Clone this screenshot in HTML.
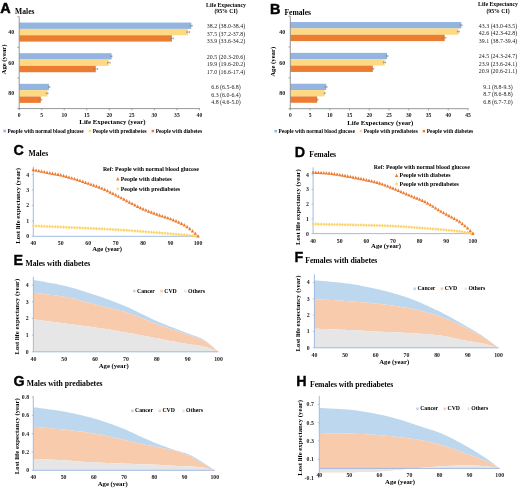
<!DOCTYPE html>
<html><head><meta charset="utf-8"><style>
html,body{margin:0;padding:0;background:#fff;width:520px;height:488px;overflow:hidden;}
svg{display:block;will-change:transform;}
</style></head><body>
<svg width="520" height="488" viewBox="0 0 520 488">
<rect width="520" height="488" fill="#fff"/>
<text x="0.30" y="12.80" font-family='"Liberation Sans", sans-serif' font-size="14.4" font-weight="bold" text-anchor="start" fill="#000" stroke="#000" stroke-width="0.5">A</text>
<text x="15.10" y="14.10" font-family='"Liberation Serif", serif' font-size="7.6" font-weight="bold" text-anchor="start" fill="#000" >Males</text>
<rect x="19.20" y="22.55" width="172.09" height="6.35" fill="#93B5E0"/>
<line x1="190.39" y1="25.72" x2="192.19" y2="25.72" stroke="#7f7f7f" stroke-width="0.6"/>
<line x1="190.39" y1="24.72" x2="190.39" y2="26.72" stroke="#7f7f7f" stroke-width="0.6"/>
<line x1="192.19" y1="24.72" x2="192.19" y2="26.72" stroke="#7f7f7f" stroke-width="0.6"/>
<rect x="19.20" y="28.90" width="168.94" height="6.35" fill="#FDD984"/>
<line x1="186.79" y1="32.07" x2="189.49" y2="32.07" stroke="#7f7f7f" stroke-width="0.6"/>
<line x1="186.79" y1="31.07" x2="186.79" y2="33.07" stroke="#7f7f7f" stroke-width="0.6"/>
<line x1="189.49" y1="31.07" x2="189.49" y2="33.07" stroke="#7f7f7f" stroke-width="0.6"/>
<rect x="19.20" y="35.25" width="152.72" height="6.35" fill="#EC7C31"/>
<line x1="170.57" y1="38.42" x2="173.27" y2="38.42" stroke="#7f7f7f" stroke-width="0.6"/>
<line x1="170.57" y1="37.42" x2="170.57" y2="39.42" stroke="#7f7f7f" stroke-width="0.6"/>
<line x1="173.27" y1="37.42" x2="173.27" y2="39.42" stroke="#7f7f7f" stroke-width="0.6"/>
<rect x="19.20" y="53.18" width="92.35" height="6.35" fill="#93B5E0"/>
<line x1="110.65" y1="56.35" x2="112.00" y2="56.35" stroke="#7f7f7f" stroke-width="0.6"/>
<line x1="110.65" y1="55.35" x2="110.65" y2="57.35" stroke="#7f7f7f" stroke-width="0.6"/>
<line x1="112.00" y1="55.35" x2="112.00" y2="57.35" stroke="#7f7f7f" stroke-width="0.6"/>
<rect x="19.20" y="59.53" width="89.65" height="6.35" fill="#FDD984"/>
<line x1="107.50" y1="62.70" x2="110.20" y2="62.70" stroke="#7f7f7f" stroke-width="0.6"/>
<line x1="107.50" y1="61.70" x2="107.50" y2="63.70" stroke="#7f7f7f" stroke-width="0.6"/>
<line x1="110.20" y1="61.70" x2="110.20" y2="63.70" stroke="#7f7f7f" stroke-width="0.6"/>
<rect x="19.20" y="65.88" width="76.59" height="6.35" fill="#EC7C31"/>
<line x1="93.98" y1="69.05" x2="97.59" y2="69.05" stroke="#7f7f7f" stroke-width="0.6"/>
<line x1="93.98" y1="68.05" x2="93.98" y2="70.05" stroke="#7f7f7f" stroke-width="0.6"/>
<line x1="97.59" y1="68.05" x2="97.59" y2="70.05" stroke="#7f7f7f" stroke-width="0.6"/>
<rect x="19.20" y="83.81" width="29.73" height="6.35" fill="#93B5E0"/>
<line x1="48.48" y1="86.98" x2="49.83" y2="86.98" stroke="#7f7f7f" stroke-width="0.6"/>
<line x1="48.48" y1="85.98" x2="48.48" y2="87.98" stroke="#7f7f7f" stroke-width="0.6"/>
<line x1="49.83" y1="85.98" x2="49.83" y2="87.98" stroke="#7f7f7f" stroke-width="0.6"/>
<rect x="19.20" y="90.16" width="28.38" height="6.35" fill="#FDD984"/>
<line x1="46.23" y1="93.33" x2="48.03" y2="93.33" stroke="#7f7f7f" stroke-width="0.6"/>
<line x1="46.23" y1="92.33" x2="46.23" y2="94.33" stroke="#7f7f7f" stroke-width="0.6"/>
<line x1="48.03" y1="92.33" x2="48.03" y2="94.33" stroke="#7f7f7f" stroke-width="0.6"/>
<rect x="19.20" y="96.51" width="21.62" height="6.35" fill="#EC7C31"/>
<line x1="39.92" y1="99.68" x2="41.73" y2="99.68" stroke="#7f7f7f" stroke-width="0.6"/>
<line x1="39.92" y1="98.68" x2="39.92" y2="100.68" stroke="#7f7f7f" stroke-width="0.6"/>
<line x1="41.73" y1="98.68" x2="41.73" y2="100.68" stroke="#7f7f7f" stroke-width="0.6"/>
<line x1="19.20" y1="16.70" x2="19.20" y2="109.09" stroke="#8C8C8C" stroke-width="0.9"/>
<line x1="18.70" y1="108.59" x2="199.90" y2="108.59" stroke="#8C8C8C" stroke-width="0.9"/>
<line x1="17.40" y1="16.70" x2="19.20" y2="16.70" stroke="#8C8C8C" stroke-width="0.8"/>
<line x1="17.40" y1="47.33" x2="19.20" y2="47.33" stroke="#8C8C8C" stroke-width="0.8"/>
<line x1="17.40" y1="77.96" x2="19.20" y2="77.96" stroke="#8C8C8C" stroke-width="0.8"/>
<line x1="17.40" y1="108.59" x2="19.20" y2="108.59" stroke="#8C8C8C" stroke-width="0.8"/>
<line x1="19.20" y1="108.59" x2="19.20" y2="110.19" stroke="#8C8C8C" stroke-width="0.8"/>
<text x="19.20" y="116.79" font-family='"Liberation Serif", serif' font-size="5.6" font-weight="bold" text-anchor="middle" fill="#222" >0</text>
<line x1="41.73" y1="108.59" x2="41.73" y2="110.19" stroke="#8C8C8C" stroke-width="0.8"/>
<text x="41.73" y="116.79" font-family='"Liberation Serif", serif' font-size="5.6" font-weight="bold" text-anchor="middle" fill="#222" >5</text>
<line x1="64.25" y1="108.59" x2="64.25" y2="110.19" stroke="#8C8C8C" stroke-width="0.8"/>
<text x="64.25" y="116.79" font-family='"Liberation Serif", serif' font-size="5.6" font-weight="bold" text-anchor="middle" fill="#222" >10</text>
<line x1="86.78" y1="108.59" x2="86.78" y2="110.19" stroke="#8C8C8C" stroke-width="0.8"/>
<text x="86.78" y="116.79" font-family='"Liberation Serif", serif' font-size="5.6" font-weight="bold" text-anchor="middle" fill="#222" >15</text>
<line x1="109.30" y1="108.59" x2="109.30" y2="110.19" stroke="#8C8C8C" stroke-width="0.8"/>
<text x="109.30" y="116.79" font-family='"Liberation Serif", serif' font-size="5.6" font-weight="bold" text-anchor="middle" fill="#222" >20</text>
<line x1="131.83" y1="108.59" x2="131.83" y2="110.19" stroke="#8C8C8C" stroke-width="0.8"/>
<text x="131.83" y="116.79" font-family='"Liberation Serif", serif' font-size="5.6" font-weight="bold" text-anchor="middle" fill="#222" >25</text>
<line x1="154.35" y1="108.59" x2="154.35" y2="110.19" stroke="#8C8C8C" stroke-width="0.8"/>
<text x="154.35" y="116.79" font-family='"Liberation Serif", serif' font-size="5.6" font-weight="bold" text-anchor="middle" fill="#222" >30</text>
<line x1="176.88" y1="108.59" x2="176.88" y2="110.19" stroke="#8C8C8C" stroke-width="0.8"/>
<text x="176.88" y="116.79" font-family='"Liberation Serif", serif' font-size="5.6" font-weight="bold" text-anchor="middle" fill="#222" >35</text>
<line x1="199.40" y1="108.59" x2="199.40" y2="110.19" stroke="#8C8C8C" stroke-width="0.8"/>
<text x="199.40" y="116.79" font-family='"Liberation Serif", serif' font-size="5.6" font-weight="bold" text-anchor="middle" fill="#222" >40</text>
<text x="11.20" y="34.22" font-family='"Liberation Serif", serif' font-size="6.0" font-weight="bold" text-anchor="middle" fill="#222" >40</text>
<text x="11.20" y="64.84" font-family='"Liberation Serif", serif' font-size="6.0" font-weight="bold" text-anchor="middle" fill="#222" >60</text>
<text x="11.20" y="95.47" font-family='"Liberation Serif", serif' font-size="6.0" font-weight="bold" text-anchor="middle" fill="#222" >80</text>
<text transform="translate(6.00,59.50) rotate(-90)" font-family='"Liberation Serif", serif' font-size="6.7" font-weight="bold" text-anchor="middle">Age (year)</text>
<text x="112.40" y="123.50" font-family='"Liberation Serif", serif' font-size="6.8" font-weight="bold" text-anchor="middle" fill="#000" >Life Expectancy (year)</text>
<text x="226.00" y="6.70" font-family='"Liberation Serif", serif' font-size="5.75" font-weight="bold" text-anchor="middle" fill="#000" >Life Expectancy</text>
<text x="226.00" y="13.30" font-family='"Liberation Serif", serif' font-size="5.75" font-weight="bold" text-anchor="middle" fill="#000" >(95% CI)</text>
<text x="226.00" y="28.30" font-family='"Liberation Serif", serif' font-size="5.9" font-weight="normal" text-anchor="middle" fill="#222" >38.2 (38.0-38.4)</text>
<text x="226.00" y="35.80" font-family='"Liberation Serif", serif' font-size="5.9" font-weight="normal" text-anchor="middle" fill="#222" >37.5 (37.2-37.8)</text>
<text x="226.00" y="43.30" font-family='"Liberation Serif", serif' font-size="5.9" font-weight="normal" text-anchor="middle" fill="#222" >33.9 (33.6-34.2)</text>
<text x="226.00" y="58.80" font-family='"Liberation Serif", serif' font-size="5.9" font-weight="normal" text-anchor="middle" fill="#222" >20.5 (20.3-20.6)</text>
<text x="226.00" y="66.30" font-family='"Liberation Serif", serif' font-size="5.9" font-weight="normal" text-anchor="middle" fill="#222" >19.9 (19.6-20.2)</text>
<text x="226.00" y="73.80" font-family='"Liberation Serif", serif' font-size="5.9" font-weight="normal" text-anchor="middle" fill="#222" >17.0 (16.6-17.4)</text>
<text x="226.00" y="89.30" font-family='"Liberation Serif", serif' font-size="5.9" font-weight="normal" text-anchor="middle" fill="#222" >6.6 (6.5-6.8)</text>
<text x="226.00" y="96.80" font-family='"Liberation Serif", serif' font-size="5.9" font-weight="normal" text-anchor="middle" fill="#222" >6.3 (6.0-6.4)</text>
<text x="226.00" y="104.30" font-family='"Liberation Serif", serif' font-size="5.9" font-weight="normal" text-anchor="middle" fill="#222" >4.8 (4.6-5.0)</text>
<rect x="3.40" y="129.80" width="2.50" height="2.50" fill="#93B5E0"/>
<text x="7.50" y="133.00" font-family='"Liberation Serif", serif' font-size="5.32" font-weight="bold" text-anchor="start" fill="#000" >People with normal blood glucose</text>
<rect x="88.60" y="129.80" width="2.50" height="2.50" fill="#FDD984"/>
<text x="92.70" y="133.00" font-family='"Liberation Serif", serif' font-size="5.32" font-weight="bold" text-anchor="start" fill="#000" >People with prediabetes</text>
<rect x="151.60" y="129.80" width="2.50" height="2.50" fill="#EC7C31"/>
<text x="155.70" y="133.00" font-family='"Liberation Serif", serif' font-size="5.32" font-weight="bold" text-anchor="start" fill="#000" >People with diabetes</text>
<text x="270.10" y="14.20" font-family='"Liberation Sans", sans-serif' font-size="14.4" font-weight="bold" text-anchor="start" fill="#000" stroke="#000" stroke-width="0.5">B</text>
<text x="284.40" y="14.80" font-family='"Liberation Serif", serif' font-size="7.6" font-weight="bold" text-anchor="start" fill="#000" >Females</text>
<rect x="290.30" y="22.05" width="170.99" height="6.35" fill="#93B5E0"/>
<line x1="460.10" y1="25.22" x2="462.08" y2="25.22" stroke="#7f7f7f" stroke-width="0.6"/>
<line x1="460.10" y1="24.22" x2="460.10" y2="26.22" stroke="#7f7f7f" stroke-width="0.6"/>
<line x1="462.08" y1="24.22" x2="462.08" y2="26.22" stroke="#7f7f7f" stroke-width="0.6"/>
<rect x="290.30" y="28.40" width="168.22" height="6.35" fill="#FDD984"/>
<line x1="457.34" y1="31.57" x2="459.31" y2="31.57" stroke="#7f7f7f" stroke-width="0.6"/>
<line x1="457.34" y1="30.57" x2="457.34" y2="32.57" stroke="#7f7f7f" stroke-width="0.6"/>
<line x1="459.31" y1="30.57" x2="459.31" y2="32.57" stroke="#7f7f7f" stroke-width="0.6"/>
<rect x="290.30" y="34.75" width="154.40" height="6.35" fill="#EC7C31"/>
<line x1="443.12" y1="37.92" x2="445.89" y2="37.92" stroke="#7f7f7f" stroke-width="0.6"/>
<line x1="443.12" y1="36.92" x2="443.12" y2="38.92" stroke="#7f7f7f" stroke-width="0.6"/>
<line x1="445.89" y1="36.92" x2="445.89" y2="38.92" stroke="#7f7f7f" stroke-width="0.6"/>
<rect x="290.30" y="52.88" width="96.75" height="6.35" fill="#93B5E0"/>
<line x1="386.26" y1="56.05" x2="387.84" y2="56.05" stroke="#7f7f7f" stroke-width="0.6"/>
<line x1="386.26" y1="55.05" x2="386.26" y2="57.05" stroke="#7f7f7f" stroke-width="0.6"/>
<line x1="387.84" y1="55.05" x2="387.84" y2="57.05" stroke="#7f7f7f" stroke-width="0.6"/>
<rect x="290.30" y="59.23" width="94.38" height="6.35" fill="#FDD984"/>
<line x1="383.49" y1="62.40" x2="385.47" y2="62.40" stroke="#7f7f7f" stroke-width="0.6"/>
<line x1="383.49" y1="61.40" x2="383.49" y2="63.40" stroke="#7f7f7f" stroke-width="0.6"/>
<line x1="385.47" y1="61.40" x2="385.47" y2="63.40" stroke="#7f7f7f" stroke-width="0.6"/>
<rect x="290.30" y="65.58" width="82.53" height="6.35" fill="#EC7C31"/>
<line x1="371.65" y1="68.75" x2="373.62" y2="68.75" stroke="#7f7f7f" stroke-width="0.6"/>
<line x1="371.65" y1="67.75" x2="371.65" y2="69.75" stroke="#7f7f7f" stroke-width="0.6"/>
<line x1="373.62" y1="67.75" x2="373.62" y2="69.75" stroke="#7f7f7f" stroke-width="0.6"/>
<rect x="290.30" y="83.71" width="35.93" height="6.35" fill="#93B5E0"/>
<line x1="325.05" y1="86.88" x2="327.02" y2="86.88" stroke="#7f7f7f" stroke-width="0.6"/>
<line x1="325.05" y1="85.88" x2="325.05" y2="87.88" stroke="#7f7f7f" stroke-width="0.6"/>
<line x1="327.02" y1="85.88" x2="327.02" y2="87.88" stroke="#7f7f7f" stroke-width="0.6"/>
<rect x="290.30" y="90.06" width="34.36" height="6.35" fill="#FDD984"/>
<line x1="324.26" y1="93.23" x2="325.05" y2="93.23" stroke="#7f7f7f" stroke-width="0.6"/>
<line x1="324.26" y1="92.23" x2="324.26" y2="94.23" stroke="#7f7f7f" stroke-width="0.6"/>
<line x1="325.05" y1="92.23" x2="325.05" y2="94.23" stroke="#7f7f7f" stroke-width="0.6"/>
<rect x="290.30" y="96.41" width="26.85" height="6.35" fill="#EC7C31"/>
<line x1="316.76" y1="99.58" x2="317.94" y2="99.58" stroke="#7f7f7f" stroke-width="0.6"/>
<line x1="316.76" y1="98.58" x2="316.76" y2="100.58" stroke="#7f7f7f" stroke-width="0.6"/>
<line x1="317.94" y1="98.58" x2="317.94" y2="100.58" stroke="#7f7f7f" stroke-width="0.6"/>
<line x1="290.30" y1="16.20" x2="290.30" y2="109.19" stroke="#8C8C8C" stroke-width="0.9"/>
<line x1="289.80" y1="108.69" x2="468.50" y2="108.69" stroke="#8C8C8C" stroke-width="0.9"/>
<line x1="288.50" y1="16.20" x2="290.30" y2="16.20" stroke="#8C8C8C" stroke-width="0.8"/>
<line x1="288.50" y1="47.03" x2="290.30" y2="47.03" stroke="#8C8C8C" stroke-width="0.8"/>
<line x1="288.50" y1="77.86" x2="290.30" y2="77.86" stroke="#8C8C8C" stroke-width="0.8"/>
<line x1="288.50" y1="108.69" x2="290.30" y2="108.69" stroke="#8C8C8C" stroke-width="0.8"/>
<line x1="290.30" y1="108.69" x2="290.30" y2="110.29" stroke="#8C8C8C" stroke-width="0.8"/>
<text x="290.30" y="116.89" font-family='"Liberation Serif", serif' font-size="5.6" font-weight="bold" text-anchor="middle" fill="#222" >0</text>
<line x1="310.04" y1="108.69" x2="310.04" y2="110.29" stroke="#8C8C8C" stroke-width="0.8"/>
<text x="310.04" y="116.89" font-family='"Liberation Serif", serif' font-size="5.6" font-weight="bold" text-anchor="middle" fill="#222" >5</text>
<line x1="329.79" y1="108.69" x2="329.79" y2="110.29" stroke="#8C8C8C" stroke-width="0.8"/>
<text x="329.79" y="116.89" font-family='"Liberation Serif", serif' font-size="5.6" font-weight="bold" text-anchor="middle" fill="#222" >10</text>
<line x1="349.53" y1="108.69" x2="349.53" y2="110.29" stroke="#8C8C8C" stroke-width="0.8"/>
<text x="349.53" y="116.89" font-family='"Liberation Serif", serif' font-size="5.6" font-weight="bold" text-anchor="middle" fill="#222" >15</text>
<line x1="369.28" y1="108.69" x2="369.28" y2="110.29" stroke="#8C8C8C" stroke-width="0.8"/>
<text x="369.28" y="116.89" font-family='"Liberation Serif", serif' font-size="5.6" font-weight="bold" text-anchor="middle" fill="#222" >20</text>
<line x1="389.02" y1="108.69" x2="389.02" y2="110.29" stroke="#8C8C8C" stroke-width="0.8"/>
<text x="389.02" y="116.89" font-family='"Liberation Serif", serif' font-size="5.6" font-weight="bold" text-anchor="middle" fill="#222" >25</text>
<line x1="408.77" y1="108.69" x2="408.77" y2="110.29" stroke="#8C8C8C" stroke-width="0.8"/>
<text x="408.77" y="116.89" font-family='"Liberation Serif", serif' font-size="5.6" font-weight="bold" text-anchor="middle" fill="#222" >30</text>
<line x1="428.51" y1="108.69" x2="428.51" y2="110.29" stroke="#8C8C8C" stroke-width="0.8"/>
<text x="428.51" y="116.89" font-family='"Liberation Serif", serif' font-size="5.6" font-weight="bold" text-anchor="middle" fill="#222" >35</text>
<line x1="448.26" y1="108.69" x2="448.26" y2="110.29" stroke="#8C8C8C" stroke-width="0.8"/>
<text x="448.26" y="116.89" font-family='"Liberation Serif", serif' font-size="5.6" font-weight="bold" text-anchor="middle" fill="#222" >40</text>
<line x1="468.00" y1="108.69" x2="468.00" y2="110.29" stroke="#8C8C8C" stroke-width="0.8"/>
<text x="468.00" y="116.89" font-family='"Liberation Serif", serif' font-size="5.6" font-weight="bold" text-anchor="middle" fill="#222" >45</text>
<text x="282.30" y="33.81" font-family='"Liberation Serif", serif' font-size="6.0" font-weight="bold" text-anchor="middle" fill="#222" >40</text>
<text x="282.30" y="64.64" font-family='"Liberation Serif", serif' font-size="6.0" font-weight="bold" text-anchor="middle" fill="#222" >60</text>
<text x="282.30" y="95.48" font-family='"Liberation Serif", serif' font-size="6.0" font-weight="bold" text-anchor="middle" fill="#222" >80</text>
<text transform="translate(275.20,61.80) rotate(-90)" font-family='"Liberation Serif", serif' font-size="6.7" font-weight="bold" text-anchor="middle">Age (year)</text>
<text x="380.30" y="125.20" font-family='"Liberation Serif", serif' font-size="6.8" font-weight="bold" text-anchor="middle" fill="#000" >Life Expectancy (year)</text>
<text x="498.00" y="6.10" font-family='"Liberation Serif", serif' font-size="5.75" font-weight="bold" text-anchor="middle" fill="#000" >Life Expectancy</text>
<text x="498.00" y="12.70" font-family='"Liberation Serif", serif' font-size="5.75" font-weight="bold" text-anchor="middle" fill="#000" >(95% CI)</text>
<text x="498.00" y="27.50" font-family='"Liberation Serif", serif' font-size="5.9" font-weight="normal" text-anchor="middle" fill="#222" >43.3 (43.0-43.5)</text>
<text x="498.00" y="35.00" font-family='"Liberation Serif", serif' font-size="5.9" font-weight="normal" text-anchor="middle" fill="#222" >42.6 (42.3-42.8)</text>
<text x="498.00" y="42.50" font-family='"Liberation Serif", serif' font-size="5.9" font-weight="normal" text-anchor="middle" fill="#222" >39.1 (38.7-39.4)</text>
<text x="498.00" y="58.00" font-family='"Liberation Serif", serif' font-size="5.9" font-weight="normal" text-anchor="middle" fill="#222" >24.5 (24.3-24.7)</text>
<text x="498.00" y="65.50" font-family='"Liberation Serif", serif' font-size="5.9" font-weight="normal" text-anchor="middle" fill="#222" >23.9 (23.6-24.1)</text>
<text x="498.00" y="73.00" font-family='"Liberation Serif", serif' font-size="5.9" font-weight="normal" text-anchor="middle" fill="#222" >20.9 (20.6-21.1)</text>
<text x="498.00" y="88.50" font-family='"Liberation Serif", serif' font-size="5.9" font-weight="normal" text-anchor="middle" fill="#222" >9.1 (8.8-9.3)</text>
<text x="498.00" y="96.00" font-family='"Liberation Serif", serif' font-size="5.9" font-weight="normal" text-anchor="middle" fill="#222" >8.7 (8.6-8.8)</text>
<text x="498.00" y="103.50" font-family='"Liberation Serif", serif' font-size="5.9" font-weight="normal" text-anchor="middle" fill="#222" >6.8 (6.7-7.0)</text>
<rect x="274.50" y="129.90" width="2.50" height="2.50" fill="#93B5E0"/>
<text x="278.60" y="133.10" font-family='"Liberation Serif", serif' font-size="5.32" font-weight="bold" text-anchor="start" fill="#000" >People with normal blood glucose</text>
<rect x="359.70" y="129.90" width="2.50" height="2.50" fill="#FDD984"/>
<text x="363.80" y="133.10" font-family='"Liberation Serif", serif' font-size="5.32" font-weight="bold" text-anchor="start" fill="#000" >People with prediabetes</text>
<rect x="422.70" y="129.90" width="2.50" height="2.50" fill="#EC7C31"/>
<text x="426.80" y="133.10" font-family='"Liberation Serif", serif' font-size="5.32" font-weight="bold" text-anchor="start" fill="#000" >People with diabetes</text>
<text x="13.50" y="155.10" font-family='"Liberation Sans", sans-serif' font-size="14.3" font-weight="bold" text-anchor="start" fill="#000" stroke="#000" stroke-width="0.35">C</text>
<text x="28.50" y="155.80" font-family='"Liberation Serif", serif' font-size="7.7" font-weight="bold" text-anchor="start" fill="#000" >Males</text>
<line x1="33.30" y1="166.50" x2="33.30" y2="236.30" stroke="#9BB4E0" stroke-width="0.9"/>
<line x1="33.30" y1="236.30" x2="198.00" y2="236.30" stroke="#9BB4E0" stroke-width="0.9"/>
<line x1="31.80" y1="236.30" x2="33.30" y2="236.30" stroke="#9BB4E0" stroke-width="0.8"/>
<text x="27.70" y="238.30" font-family='"Liberation Serif", serif' font-size="5.8" font-weight="bold" text-anchor="middle" fill="#222" >0</text>
<line x1="31.80" y1="220.88" x2="33.30" y2="220.88" stroke="#9BB4E0" stroke-width="0.8"/>
<text x="27.70" y="222.88" font-family='"Liberation Serif", serif' font-size="5.8" font-weight="bold" text-anchor="middle" fill="#222" >1</text>
<line x1="31.80" y1="205.45" x2="33.30" y2="205.45" stroke="#9BB4E0" stroke-width="0.8"/>
<text x="27.70" y="207.45" font-family='"Liberation Serif", serif' font-size="5.8" font-weight="bold" text-anchor="middle" fill="#222" >2</text>
<line x1="31.80" y1="190.03" x2="33.30" y2="190.03" stroke="#9BB4E0" stroke-width="0.8"/>
<text x="27.70" y="192.03" font-family='"Liberation Serif", serif' font-size="5.8" font-weight="bold" text-anchor="middle" fill="#222" >3</text>
<line x1="31.80" y1="174.60" x2="33.30" y2="174.60" stroke="#9BB4E0" stroke-width="0.8"/>
<text x="27.70" y="176.60" font-family='"Liberation Serif", serif' font-size="5.8" font-weight="bold" text-anchor="middle" fill="#222" >4</text>
<text x="33.30" y="245.30" font-family='"Liberation Serif", serif' font-size="5.8" font-weight="bold" text-anchor="middle" fill="#222" >40</text>
<text x="60.75" y="245.30" font-family='"Liberation Serif", serif' font-size="5.8" font-weight="bold" text-anchor="middle" fill="#222" >50</text>
<text x="88.20" y="245.30" font-family='"Liberation Serif", serif' font-size="5.8" font-weight="bold" text-anchor="middle" fill="#222" >60</text>
<text x="115.65" y="245.30" font-family='"Liberation Serif", serif' font-size="5.8" font-weight="bold" text-anchor="middle" fill="#222" >70</text>
<text x="143.10" y="245.30" font-family='"Liberation Serif", serif' font-size="5.8" font-weight="bold" text-anchor="middle" fill="#222" >80</text>
<text x="170.55" y="245.30" font-family='"Liberation Serif", serif' font-size="5.8" font-weight="bold" text-anchor="middle" fill="#222" >90</text>
<text x="198.00" y="245.30" font-family='"Liberation Serif", serif' font-size="5.8" font-weight="bold" text-anchor="middle" fill="#222" >100</text>
<path d="M33.30 224.01L34.80 225.81L33.30 227.61L31.80 225.81Z" fill="#FDD56C"/>
<path d="M36.04 224.14L37.54 225.94L36.04 227.74L34.54 225.94Z" fill="#FDD56C"/>
<path d="M38.79 224.27L40.29 226.07L38.79 227.87L37.29 226.07Z" fill="#FDD56C"/>
<path d="M41.53 224.39L43.03 226.19L41.53 227.99L40.03 226.19Z" fill="#FDD56C"/>
<path d="M44.28 224.52L45.78 226.32L44.28 228.12L42.78 226.32Z" fill="#FDD56C"/>
<path d="M47.02 224.64L48.52 226.44L47.02 228.24L45.52 226.44Z" fill="#FDD56C"/>
<path d="M49.77 224.76L51.27 226.56L49.77 228.36L48.27 226.56Z" fill="#FDD56C"/>
<path d="M52.51 224.88L54.01 226.68L52.51 228.48L51.01 226.68Z" fill="#FDD56C"/>
<path d="M55.26 225.00L56.76 226.80L55.26 228.60L53.76 226.80Z" fill="#FDD56C"/>
<path d="M58.00 225.12L59.50 226.92L58.00 228.72L56.50 226.92Z" fill="#FDD56C"/>
<path d="M60.75 225.24L62.25 227.04L60.75 228.84L59.25 227.04Z" fill="#FDD56C"/>
<path d="M63.49 225.36L64.99 227.16L63.49 228.96L61.99 227.16Z" fill="#FDD56C"/>
<path d="M66.24 225.47L67.74 227.27L66.24 229.07L64.74 227.27Z" fill="#FDD56C"/>
<path d="M68.98 225.59L70.48 227.39L68.98 229.19L67.48 227.39Z" fill="#FDD56C"/>
<path d="M71.73 225.71L73.23 227.51L71.73 229.31L70.23 227.51Z" fill="#FDD56C"/>
<path d="M74.47 225.83L75.97 227.63L74.47 229.43L72.97 227.63Z" fill="#FDD56C"/>
<path d="M77.22 225.95L78.72 227.75L77.22 229.55L75.72 227.75Z" fill="#FDD56C"/>
<path d="M79.96 226.08L81.46 227.88L79.96 229.68L78.46 227.88Z" fill="#FDD56C"/>
<path d="M82.71 226.20L84.21 228.00L82.71 229.80L81.21 228.00Z" fill="#FDD56C"/>
<path d="M85.45 226.32L86.95 228.12L85.45 229.92L83.95 228.12Z" fill="#FDD56C"/>
<path d="M88.20 226.45L89.70 228.25L88.20 230.05L86.70 228.25Z" fill="#FDD56C"/>
<path d="M90.94 226.58L92.44 228.38L90.94 230.18L89.44 228.38Z" fill="#FDD56C"/>
<path d="M93.69 226.71L95.19 228.51L93.69 230.31L92.19 228.51Z" fill="#FDD56C"/>
<path d="M96.43 226.84L97.93 228.64L96.43 230.44L94.93 228.64Z" fill="#FDD56C"/>
<path d="M99.18 226.98L100.68 228.78L99.18 230.58L97.68 228.78Z" fill="#FDD56C"/>
<path d="M101.92 227.12L103.42 228.92L101.92 230.72L100.42 228.92Z" fill="#FDD56C"/>
<path d="M104.67 227.26L106.17 229.06L104.67 230.86L103.17 229.06Z" fill="#FDD56C"/>
<path d="M107.41 227.40L108.91 229.20L107.41 231.00L105.91 229.20Z" fill="#FDD56C"/>
<path d="M110.16 227.55L111.66 229.35L110.16 231.15L108.66 229.35Z" fill="#FDD56C"/>
<path d="M112.90 227.70L114.40 229.50L112.90 231.30L111.40 229.50Z" fill="#FDD56C"/>
<path d="M115.65 227.85L117.15 229.65L115.65 231.45L114.15 229.65Z" fill="#FDD56C"/>
<path d="M118.39 228.01L119.89 229.81L118.39 231.61L116.89 229.81Z" fill="#FDD56C"/>
<path d="M121.14 228.18L122.64 229.98L121.14 231.78L119.64 229.98Z" fill="#FDD56C"/>
<path d="M123.88 228.35L125.38 230.15L123.88 231.95L122.38 230.15Z" fill="#FDD56C"/>
<path d="M126.63 228.53L128.13 230.33L126.63 232.13L125.13 230.33Z" fill="#FDD56C"/>
<path d="M129.38 228.72L130.88 230.52L129.38 232.32L127.88 230.52Z" fill="#FDD56C"/>
<path d="M132.12 228.92L133.62 230.72L132.12 232.52L130.62 230.72Z" fill="#FDD56C"/>
<path d="M134.86 229.12L136.36 230.92L134.86 232.72L133.36 230.92Z" fill="#FDD56C"/>
<path d="M137.61 229.34L139.11 231.14L137.61 232.94L136.11 231.14Z" fill="#FDD56C"/>
<path d="M140.35 229.55L141.85 231.35L140.35 233.15L138.85 231.35Z" fill="#FDD56C"/>
<path d="M143.10 229.77L144.60 231.57L143.10 233.37L141.60 231.57Z" fill="#FDD56C"/>
<path d="M145.84 229.99L147.34 231.79L145.84 233.59L144.34 231.79Z" fill="#FDD56C"/>
<path d="M148.59 230.21L150.09 232.01L148.59 233.81L147.09 232.01Z" fill="#FDD56C"/>
<path d="M151.33 230.43L152.83 232.23L151.33 234.03L149.83 232.23Z" fill="#FDD56C"/>
<path d="M154.08 230.64L155.58 232.44L154.08 234.24L152.58 232.44Z" fill="#FDD56C"/>
<path d="M156.82 230.86L158.32 232.66L156.82 234.46L155.32 232.66Z" fill="#FDD56C"/>
<path d="M159.57 231.07L161.07 232.87L159.57 234.67L158.07 232.87Z" fill="#FDD56C"/>
<path d="M162.31 231.29L163.81 233.09L162.31 234.89L160.81 233.09Z" fill="#FDD56C"/>
<path d="M165.06 231.50L166.56 233.30L165.06 235.10L163.56 233.30Z" fill="#FDD56C"/>
<path d="M167.81 231.72L169.31 233.52L167.81 235.32L166.31 233.52Z" fill="#FDD56C"/>
<path d="M170.55 231.94L172.05 233.74L170.55 235.54L169.05 233.74Z" fill="#FDD56C"/>
<path d="M173.29 232.16L174.79 233.96L173.29 235.76L171.79 233.96Z" fill="#FDD56C"/>
<path d="M176.04 232.39L177.54 234.19L176.04 235.99L174.54 234.19Z" fill="#FDD56C"/>
<path d="M178.78 232.62L180.28 234.42L178.78 236.22L177.28 234.42Z" fill="#FDD56C"/>
<path d="M181.53 232.86L183.03 234.66L181.53 236.46L180.03 234.66Z" fill="#FDD56C"/>
<path d="M184.27 233.11L185.77 234.91L184.27 236.71L182.77 234.91Z" fill="#FDD56C"/>
<path d="M187.02 233.37L188.52 235.17L187.02 236.97L185.52 235.17Z" fill="#FDD56C"/>
<path d="M189.76 233.65L191.26 235.45L189.76 237.25L188.26 235.45Z" fill="#FDD56C"/>
<path d="M192.51 233.93L194.01 235.73L192.51 237.53L191.01 235.73Z" fill="#FDD56C"/>
<path d="M195.25 234.22L196.75 236.02L195.25 237.82L193.75 236.02Z" fill="#FDD56C"/>
<path d="M198.00 234.50L199.50 236.30L198.00 238.10L196.50 236.30Z" fill="#FDD56C"/>
<path d="M33.30 167.87L35.00 171.27L31.60 171.27Z" fill="#EC7C31"/>
<path d="M36.04 168.40L37.74 171.80L34.34 171.80Z" fill="#EC7C31"/>
<path d="M38.79 168.92L40.49 172.32L37.09 172.32Z" fill="#EC7C31"/>
<path d="M41.53 169.45L43.23 172.85L39.83 172.85Z" fill="#EC7C31"/>
<path d="M44.28 169.97L45.98 173.37L42.58 173.37Z" fill="#EC7C31"/>
<path d="M47.02 170.49L48.72 173.89L45.32 173.89Z" fill="#EC7C31"/>
<path d="M49.77 171.00L51.47 174.40L48.07 174.40Z" fill="#EC7C31"/>
<path d="M52.51 171.50L54.21 174.90L50.81 174.90Z" fill="#EC7C31"/>
<path d="M55.26 172.00L56.96 175.40L53.56 175.40Z" fill="#EC7C31"/>
<path d="M58.00 172.53L59.70 175.93L56.30 175.93Z" fill="#EC7C31"/>
<path d="M60.75 173.12L62.45 176.52L59.05 176.52Z" fill="#EC7C31"/>
<path d="M63.49 173.79L65.19 177.19L61.79 177.19Z" fill="#EC7C31"/>
<path d="M66.24 174.53L67.94 177.93L64.54 177.93Z" fill="#EC7C31"/>
<path d="M68.98 175.32L70.68 178.72L67.28 178.72Z" fill="#EC7C31"/>
<path d="M71.73 176.14L73.43 179.54L70.03 179.54Z" fill="#EC7C31"/>
<path d="M74.47 176.97L76.17 180.37L72.77 180.37Z" fill="#EC7C31"/>
<path d="M77.22 177.82L78.92 181.22L75.52 181.22Z" fill="#EC7C31"/>
<path d="M79.96 178.69L81.66 182.09L78.26 182.09Z" fill="#EC7C31"/>
<path d="M82.71 179.59L84.41 182.99L81.01 182.99Z" fill="#EC7C31"/>
<path d="M85.45 180.51L87.15 183.91L83.75 183.91Z" fill="#EC7C31"/>
<path d="M88.20 181.45L89.90 184.85L86.50 184.85Z" fill="#EC7C31"/>
<path d="M90.94 182.38L92.64 185.78L89.24 185.78Z" fill="#EC7C31"/>
<path d="M93.69 183.32L95.39 186.72L91.99 186.72Z" fill="#EC7C31"/>
<path d="M96.43 184.28L98.13 187.68L94.73 187.68Z" fill="#EC7C31"/>
<path d="M99.18 185.29L100.88 188.69L97.48 188.69Z" fill="#EC7C31"/>
<path d="M101.92 186.38L103.62 189.78L100.22 189.78Z" fill="#EC7C31"/>
<path d="M104.67 187.58L106.37 190.98L102.97 190.98Z" fill="#EC7C31"/>
<path d="M107.41 188.87L109.11 192.27L105.71 192.27Z" fill="#EC7C31"/>
<path d="M110.16 190.23L111.86 193.63L108.46 193.63Z" fill="#EC7C31"/>
<path d="M112.90 191.62L114.60 195.02L111.20 195.02Z" fill="#EC7C31"/>
<path d="M115.65 193.02L117.35 196.42L113.95 196.42Z" fill="#EC7C31"/>
<path d="M118.39 194.43L120.09 197.83L116.69 197.83Z" fill="#EC7C31"/>
<path d="M121.14 195.89L122.84 199.29L119.44 199.29Z" fill="#EC7C31"/>
<path d="M123.88 197.37L125.58 200.77L122.18 200.77Z" fill="#EC7C31"/>
<path d="M126.63 198.84L128.33 202.24L124.93 202.24Z" fill="#EC7C31"/>
<path d="M129.38 200.27L131.07 203.67L127.67 203.67Z" fill="#EC7C31"/>
<path d="M132.12 201.68L133.82 205.08L130.42 205.08Z" fill="#EC7C31"/>
<path d="M134.86 203.10L136.56 206.50L133.16 206.50Z" fill="#EC7C31"/>
<path d="M137.61 204.48L139.31 207.88L135.91 207.88Z" fill="#EC7C31"/>
<path d="M140.35 205.81L142.05 209.21L138.66 209.21Z" fill="#EC7C31"/>
<path d="M143.10 207.05L144.80 210.45L141.40 210.45Z" fill="#EC7C31"/>
<path d="M145.84 208.20L147.54 211.60L144.14 211.60Z" fill="#EC7C31"/>
<path d="M148.59 209.28L150.29 212.68L146.89 212.68Z" fill="#EC7C31"/>
<path d="M151.33 210.31L153.03 213.71L149.63 213.71Z" fill="#EC7C31"/>
<path d="M154.08 211.31L155.78 214.71L152.38 214.71Z" fill="#EC7C31"/>
<path d="M156.82 212.30L158.52 215.70L155.12 215.70Z" fill="#EC7C31"/>
<path d="M159.57 213.24L161.27 216.64L157.87 216.64Z" fill="#EC7C31"/>
<path d="M162.31 214.14L164.01 217.54L160.62 217.54Z" fill="#EC7C31"/>
<path d="M165.06 215.03L166.76 218.43L163.36 218.43Z" fill="#EC7C31"/>
<path d="M167.81 215.94L169.50 219.34L166.11 219.34Z" fill="#EC7C31"/>
<path d="M170.55 216.92L172.25 220.32L168.85 220.32Z" fill="#EC7C31"/>
<path d="M173.29 217.98L174.99 221.38L171.59 221.38Z" fill="#EC7C31"/>
<path d="M176.04 219.11L177.74 222.51L174.34 222.51Z" fill="#EC7C31"/>
<path d="M178.78 220.32L180.48 223.72L177.08 223.72Z" fill="#EC7C31"/>
<path d="M181.53 221.62L183.23 225.02L179.83 225.02Z" fill="#EC7C31"/>
<path d="M184.27 223.09L185.97 226.49L182.57 226.49Z" fill="#EC7C31"/>
<path d="M187.02 224.83L188.72 228.23L185.32 228.23Z" fill="#EC7C31"/>
<path d="M189.76 226.80L191.46 230.20L188.06 230.20Z" fill="#EC7C31"/>
<path d="M192.51 228.99L194.21 232.39L190.81 232.39Z" fill="#EC7C31"/>
<path d="M195.25 231.42L196.95 234.82L193.56 234.82Z" fill="#EC7C31"/>
<path d="M198.00 234.20L199.70 237.60L196.30 237.60Z" fill="#EC7C31"/>
<text transform="translate(20.20,243.80) rotate(-90)" font-family='"Liberation Serif", serif' font-size="6.75" font-weight="bold">Lost life expectancy (year)</text>
<text x="107.10" y="250.80" font-family='"Liberation Serif", serif' font-size="6.7" font-weight="bold" text-anchor="middle" fill="#000" >Age (year)</text>
<text x="102.90" y="171.20" font-family='"Liberation Serif", serif' font-size="5.85" font-weight="bold" text-anchor="start" fill="#000" >Ref: People with normal blood glucose</text>
<path d="M117.80 177.10L119.50 180.50L116.10 180.50Z" fill="#EC7C31"/>
<text x="120.80" y="180.70" font-family='"Liberation Serif", serif' font-size="5.85" font-weight="bold" text-anchor="start" fill="#000" >People with diabetes</text>
<path d="M117.80 187.00L119.30 188.80L117.80 190.60L116.30 188.80Z" fill="#FDD56C"/>
<text x="120.80" y="190.60" font-family='"Liberation Serif", serif' font-size="5.85" font-weight="bold" text-anchor="start" fill="#000" >People with prediabetes</text>
<text x="294.80" y="156.60" font-family='"Liberation Sans", sans-serif' font-size="14.3" font-weight="bold" text-anchor="start" fill="#000" stroke="#000" stroke-width="0.35">D</text>
<text x="309.20" y="157.40" font-family='"Liberation Serif", serif' font-size="7.7" font-weight="bold" text-anchor="start" fill="#000" >Females</text>
<line x1="313.10" y1="167.30" x2="313.10" y2="233.60" stroke="#9BB4E0" stroke-width="0.9"/>
<line x1="313.10" y1="233.60" x2="472.90" y2="233.60" stroke="#9BB4E0" stroke-width="0.9"/>
<line x1="311.60" y1="233.60" x2="313.10" y2="233.60" stroke="#9BB4E0" stroke-width="0.8"/>
<text x="307.50" y="235.60" font-family='"Liberation Serif", serif' font-size="5.8" font-weight="bold" text-anchor="middle" fill="#222" >0</text>
<line x1="311.60" y1="218.88" x2="313.10" y2="218.88" stroke="#9BB4E0" stroke-width="0.8"/>
<text x="307.50" y="220.88" font-family='"Liberation Serif", serif' font-size="5.8" font-weight="bold" text-anchor="middle" fill="#222" >1</text>
<line x1="311.60" y1="204.15" x2="313.10" y2="204.15" stroke="#9BB4E0" stroke-width="0.8"/>
<text x="307.50" y="206.15" font-family='"Liberation Serif", serif' font-size="5.8" font-weight="bold" text-anchor="middle" fill="#222" >2</text>
<line x1="311.60" y1="189.42" x2="313.10" y2="189.42" stroke="#9BB4E0" stroke-width="0.8"/>
<text x="307.50" y="191.42" font-family='"Liberation Serif", serif' font-size="5.8" font-weight="bold" text-anchor="middle" fill="#222" >3</text>
<line x1="311.60" y1="174.70" x2="313.10" y2="174.70" stroke="#9BB4E0" stroke-width="0.8"/>
<text x="307.50" y="176.70" font-family='"Liberation Serif", serif' font-size="5.8" font-weight="bold" text-anchor="middle" fill="#222" >4</text>
<text x="313.10" y="242.60" font-family='"Liberation Serif", serif' font-size="5.8" font-weight="bold" text-anchor="middle" fill="#222" >40</text>
<text x="339.73" y="242.60" font-family='"Liberation Serif", serif' font-size="5.8" font-weight="bold" text-anchor="middle" fill="#222" >50</text>
<text x="366.37" y="242.60" font-family='"Liberation Serif", serif' font-size="5.8" font-weight="bold" text-anchor="middle" fill="#222" >60</text>
<text x="393.00" y="242.60" font-family='"Liberation Serif", serif' font-size="5.8" font-weight="bold" text-anchor="middle" fill="#222" >70</text>
<text x="419.63" y="242.60" font-family='"Liberation Serif", serif' font-size="5.8" font-weight="bold" text-anchor="middle" fill="#222" >80</text>
<text x="446.27" y="242.60" font-family='"Liberation Serif", serif' font-size="5.8" font-weight="bold" text-anchor="middle" fill="#222" >90</text>
<text x="472.90" y="242.60" font-family='"Liberation Serif", serif' font-size="5.8" font-weight="bold" text-anchor="middle" fill="#222" >100</text>
<path d="M313.10 222.23L314.60 224.03L313.10 225.83L311.60 224.03Z" fill="#FDD56C"/>
<path d="M315.76 222.29L317.26 224.09L315.76 225.89L314.26 224.09Z" fill="#FDD56C"/>
<path d="M318.43 222.36L319.93 224.16L318.43 225.96L316.93 224.16Z" fill="#FDD56C"/>
<path d="M321.09 222.42L322.59 224.22L321.09 226.02L319.59 224.22Z" fill="#FDD56C"/>
<path d="M323.75 222.48L325.25 224.28L323.75 226.08L322.25 224.28Z" fill="#FDD56C"/>
<path d="M326.42 222.53L327.92 224.33L326.42 226.13L324.92 224.33Z" fill="#FDD56C"/>
<path d="M329.08 222.59L330.58 224.39L329.08 226.19L327.58 224.39Z" fill="#FDD56C"/>
<path d="M331.74 222.64L333.24 224.44L331.74 226.24L330.24 224.44Z" fill="#FDD56C"/>
<path d="M334.41 222.70L335.91 224.50L334.41 226.30L332.91 224.50Z" fill="#FDD56C"/>
<path d="M337.07 222.75L338.57 224.55L337.07 226.35L335.57 224.55Z" fill="#FDD56C"/>
<path d="M339.73 222.81L341.23 224.61L339.73 226.41L338.23 224.61Z" fill="#FDD56C"/>
<path d="M342.40 222.86L343.90 224.66L342.40 226.46L340.90 224.66Z" fill="#FDD56C"/>
<path d="M345.06 222.91L346.56 224.71L345.06 226.51L343.56 224.71Z" fill="#FDD56C"/>
<path d="M347.72 222.97L349.22 224.77L347.72 226.57L346.22 224.77Z" fill="#FDD56C"/>
<path d="M350.39 223.02L351.89 224.82L350.39 226.62L348.89 224.82Z" fill="#FDD56C"/>
<path d="M353.05 223.08L354.55 224.88L353.05 226.68L351.55 224.88Z" fill="#FDD56C"/>
<path d="M355.71 223.14L357.21 224.94L355.71 226.74L354.21 224.94Z" fill="#FDD56C"/>
<path d="M358.38 223.20L359.88 225.00L358.38 226.80L356.88 225.00Z" fill="#FDD56C"/>
<path d="M361.04 223.26L362.54 225.06L361.04 226.86L359.54 225.06Z" fill="#FDD56C"/>
<path d="M363.70 223.32L365.20 225.12L363.70 226.92L362.20 225.12Z" fill="#FDD56C"/>
<path d="M366.37 223.39L367.87 225.19L366.37 226.99L364.87 225.19Z" fill="#FDD56C"/>
<path d="M369.03 223.46L370.53 225.26L369.03 227.06L367.53 225.26Z" fill="#FDD56C"/>
<path d="M371.69 223.53L373.19 225.33L371.69 227.13L370.19 225.33Z" fill="#FDD56C"/>
<path d="M374.36 223.61L375.86 225.41L374.36 227.21L372.86 225.41Z" fill="#FDD56C"/>
<path d="M377.02 223.69L378.52 225.49L377.02 227.29L375.52 225.49Z" fill="#FDD56C"/>
<path d="M379.68 223.77L381.18 225.57L379.68 227.37L378.18 225.57Z" fill="#FDD56C"/>
<path d="M382.35 223.86L383.85 225.66L382.35 227.46L380.85 225.66Z" fill="#FDD56C"/>
<path d="M385.01 223.95L386.51 225.75L385.01 227.55L383.51 225.75Z" fill="#FDD56C"/>
<path d="M387.67 224.04L389.17 225.84L387.67 227.64L386.17 225.84Z" fill="#FDD56C"/>
<path d="M390.34 224.14L391.84 225.94L390.34 227.74L388.84 225.94Z" fill="#FDD56C"/>
<path d="M393.00 224.26L394.50 226.06L393.00 227.86L391.50 226.06Z" fill="#FDD56C"/>
<path d="M395.66 224.39L397.16 226.19L395.66 227.99L394.16 226.19Z" fill="#FDD56C"/>
<path d="M398.33 224.53L399.83 226.33L398.33 228.13L396.83 226.33Z" fill="#FDD56C"/>
<path d="M400.99 224.70L402.49 226.50L400.99 228.30L399.49 226.50Z" fill="#FDD56C"/>
<path d="M403.65 224.87L405.15 226.67L403.65 228.47L402.15 226.67Z" fill="#FDD56C"/>
<path d="M406.32 225.06L407.82 226.86L406.32 228.66L404.82 226.86Z" fill="#FDD56C"/>
<path d="M408.98 225.25L410.48 227.05L408.98 228.85L407.48 227.05Z" fill="#FDD56C"/>
<path d="M411.64 225.45L413.14 227.25L411.64 229.05L410.14 227.25Z" fill="#FDD56C"/>
<path d="M414.31 225.66L415.81 227.46L414.31 229.26L412.81 227.46Z" fill="#FDD56C"/>
<path d="M416.97 225.87L418.47 227.67L416.97 229.47L415.47 227.67Z" fill="#FDD56C"/>
<path d="M419.63 226.08L421.13 227.88L419.63 229.68L418.13 227.88Z" fill="#FDD56C"/>
<path d="M422.30 226.29L423.80 228.09L422.30 229.89L420.80 228.09Z" fill="#FDD56C"/>
<path d="M424.96 226.50L426.46 228.30L424.96 230.10L423.46 228.30Z" fill="#FDD56C"/>
<path d="M427.62 226.70L429.12 228.50L427.62 230.30L426.12 228.50Z" fill="#FDD56C"/>
<path d="M430.29 226.91L431.79 228.71L430.29 230.51L428.79 228.71Z" fill="#FDD56C"/>
<path d="M432.95 227.11L434.45 228.91L432.95 230.71L431.45 228.91Z" fill="#FDD56C"/>
<path d="M435.61 227.32L437.11 229.12L435.61 230.92L434.11 229.12Z" fill="#FDD56C"/>
<path d="M438.28 227.53L439.78 229.33L438.28 231.13L436.78 229.33Z" fill="#FDD56C"/>
<path d="M440.94 227.74L442.44 229.54L440.94 231.34L439.44 229.54Z" fill="#FDD56C"/>
<path d="M443.60 227.97L445.10 229.77L443.60 231.57L442.10 229.77Z" fill="#FDD56C"/>
<path d="M446.27 228.20L447.77 230.00L446.27 231.80L444.77 230.00Z" fill="#FDD56C"/>
<path d="M448.93 228.45L450.43 230.25L448.93 232.05L447.43 230.25Z" fill="#FDD56C"/>
<path d="M451.59 228.71L453.09 230.51L451.59 232.31L450.09 230.51Z" fill="#FDD56C"/>
<path d="M454.26 228.98L455.76 230.78L454.26 232.58L452.76 230.78Z" fill="#FDD56C"/>
<path d="M456.92 229.28L458.42 231.08L456.92 232.88L455.42 231.08Z" fill="#FDD56C"/>
<path d="M459.58 229.59L461.08 231.39L459.58 233.19L458.08 231.39Z" fill="#FDD56C"/>
<path d="M462.25 229.96L463.75 231.76L462.25 233.56L460.75 231.76Z" fill="#FDD56C"/>
<path d="M464.91 230.39L466.41 232.19L464.91 233.99L463.41 232.19Z" fill="#FDD56C"/>
<path d="M467.57 230.86L469.07 232.66L467.57 234.46L466.07 232.66Z" fill="#FDD56C"/>
<path d="M470.24 231.34L471.74 233.14L470.24 234.94L468.74 233.14Z" fill="#FDD56C"/>
<path d="M472.90 231.80L474.40 233.60L472.90 235.40L471.40 233.60Z" fill="#FDD56C"/>
<path d="M313.10 170.39L314.80 173.79L311.40 173.79Z" fill="#EC7C31"/>
<path d="M315.76 170.53L317.46 173.93L314.06 173.93Z" fill="#EC7C31"/>
<path d="M318.43 170.66L320.13 174.06L316.73 174.06Z" fill="#EC7C31"/>
<path d="M321.09 170.79L322.79 174.19L319.39 174.19Z" fill="#EC7C31"/>
<path d="M323.75 170.94L325.45 174.34L322.05 174.34Z" fill="#EC7C31"/>
<path d="M326.42 171.13L328.12 174.53L324.72 174.53Z" fill="#EC7C31"/>
<path d="M329.08 171.37L330.78 174.77L327.38 174.77Z" fill="#EC7C31"/>
<path d="M331.74 171.69L333.44 175.09L330.04 175.09Z" fill="#EC7C31"/>
<path d="M334.41 172.05L336.11 175.45L332.71 175.45Z" fill="#EC7C31"/>
<path d="M337.07 172.46L338.77 175.86L335.37 175.86Z" fill="#EC7C31"/>
<path d="M339.73 172.89L341.43 176.29L338.03 176.29Z" fill="#EC7C31"/>
<path d="M342.40 173.33L344.10 176.73L340.70 176.73Z" fill="#EC7C31"/>
<path d="M345.06 173.78L346.76 177.18L343.36 177.18Z" fill="#EC7C31"/>
<path d="M347.72 174.23L349.42 177.63L346.02 177.63Z" fill="#EC7C31"/>
<path d="M350.39 174.72L352.09 178.12L348.69 178.12Z" fill="#EC7C31"/>
<path d="M353.05 175.23L354.75 178.63L351.35 178.63Z" fill="#EC7C31"/>
<path d="M355.71 175.76L357.41 179.16L354.01 179.16Z" fill="#EC7C31"/>
<path d="M358.38 176.31L360.08 179.71L356.68 179.71Z" fill="#EC7C31"/>
<path d="M361.04 176.87L362.74 180.27L359.34 180.27Z" fill="#EC7C31"/>
<path d="M363.70 177.43L365.40 180.83L362.00 180.83Z" fill="#EC7C31"/>
<path d="M366.37 178.00L368.07 181.40L364.67 181.40Z" fill="#EC7C31"/>
<path d="M369.03 178.58L370.73 181.98L367.33 181.98Z" fill="#EC7C31"/>
<path d="M371.69 179.19L373.39 182.59L369.99 182.59Z" fill="#EC7C31"/>
<path d="M374.36 179.84L376.06 183.24L372.66 183.24Z" fill="#EC7C31"/>
<path d="M377.02 180.53L378.72 183.93L375.32 183.93Z" fill="#EC7C31"/>
<path d="M379.68 181.29L381.38 184.69L377.98 184.69Z" fill="#EC7C31"/>
<path d="M382.35 182.15L384.05 185.55L380.65 185.55Z" fill="#EC7C31"/>
<path d="M385.01 183.14L386.71 186.54L383.31 186.54Z" fill="#EC7C31"/>
<path d="M387.67 184.20L389.37 187.60L385.97 187.60Z" fill="#EC7C31"/>
<path d="M390.34 185.26L392.04 188.66L388.64 188.66Z" fill="#EC7C31"/>
<path d="M393.00 186.34L394.70 189.74L391.30 189.74Z" fill="#EC7C31"/>
<path d="M395.66 187.46L397.36 190.86L393.96 190.86Z" fill="#EC7C31"/>
<path d="M398.33 188.60L400.03 192.00L396.63 192.00Z" fill="#EC7C31"/>
<path d="M400.99 189.75L402.69 193.15L399.29 193.15Z" fill="#EC7C31"/>
<path d="M403.65 190.90L405.35 194.30L401.95 194.30Z" fill="#EC7C31"/>
<path d="M406.32 192.04L408.02 195.44L404.62 195.44Z" fill="#EC7C31"/>
<path d="M408.98 193.13L410.68 196.53L407.28 196.53Z" fill="#EC7C31"/>
<path d="M411.64 194.19L413.34 197.59L409.94 197.59Z" fill="#EC7C31"/>
<path d="M414.31 195.24L416.01 198.64L412.61 198.64Z" fill="#EC7C31"/>
<path d="M416.97 196.30L418.67 199.70L415.27 199.70Z" fill="#EC7C31"/>
<path d="M419.63 197.41L421.33 200.81L417.93 200.81Z" fill="#EC7C31"/>
<path d="M422.30 198.58L424.00 201.98L420.60 201.98Z" fill="#EC7C31"/>
<path d="M424.96 199.84L426.66 203.24L423.26 203.24Z" fill="#EC7C31"/>
<path d="M427.62 201.25L429.32 204.65L425.92 204.65Z" fill="#EC7C31"/>
<path d="M430.29 202.81L431.99 206.21L428.59 206.21Z" fill="#EC7C31"/>
<path d="M432.95 204.46L434.65 207.86L431.25 207.86Z" fill="#EC7C31"/>
<path d="M435.61 206.14L437.31 209.54L433.91 209.54Z" fill="#EC7C31"/>
<path d="M438.28 207.81L439.98 211.21L436.58 211.21Z" fill="#EC7C31"/>
<path d="M440.94 209.41L442.64 212.81L439.24 212.81Z" fill="#EC7C31"/>
<path d="M443.60 210.91L445.30 214.31L441.90 214.31Z" fill="#EC7C31"/>
<path d="M446.27 212.34L447.97 215.74L444.57 215.74Z" fill="#EC7C31"/>
<path d="M448.93 213.73L450.63 217.13L447.23 217.13Z" fill="#EC7C31"/>
<path d="M451.59 215.15L453.29 218.55L449.89 218.55Z" fill="#EC7C31"/>
<path d="M454.26 216.61L455.96 220.01L452.56 220.01Z" fill="#EC7C31"/>
<path d="M456.92 218.17L458.62 221.57L455.22 221.57Z" fill="#EC7C31"/>
<path d="M459.58 219.87L461.28 223.27L457.88 223.27Z" fill="#EC7C31"/>
<path d="M462.25 221.77L463.95 225.17L460.55 225.17Z" fill="#EC7C31"/>
<path d="M464.91 223.89L466.61 227.29L463.21 227.29Z" fill="#EC7C31"/>
<path d="M467.57 226.22L469.27 229.62L465.87 229.62Z" fill="#EC7C31"/>
<path d="M470.24 228.84L471.94 232.24L468.54 232.24Z" fill="#EC7C31"/>
<path d="M472.90 231.50L474.60 234.90L471.20 234.90Z" fill="#EC7C31"/>
<text transform="translate(299.70,245.10) rotate(-90)" font-family='"Liberation Serif", serif' font-size="6.75" font-weight="bold">Lost life expectancy (year)</text>
<text x="386.00" y="247.80" font-family='"Liberation Serif", serif' font-size="6.7" font-weight="bold" text-anchor="middle" fill="#000" >Age (year)</text>
<text x="373.80" y="168.80" font-family='"Liberation Serif", serif' font-size="5.85" font-weight="bold" text-anchor="start" fill="#000" >Ref: People with normal blood glucose</text>
<path d="M396.60 173.60L398.30 177.00L394.90 177.00Z" fill="#EC7C31"/>
<text x="399.60" y="177.20" font-family='"Liberation Serif", serif' font-size="5.85" font-weight="bold" text-anchor="start" fill="#000" >People with diabetes</text>
<path d="M396.60 182.10L398.10 183.90L396.60 185.70L395.10 183.90Z" fill="#FDD56C"/>
<text x="399.60" y="185.70" font-family='"Liberation Serif", serif' font-size="5.85" font-weight="bold" text-anchor="start" fill="#000" >People with prediabetes</text>
<text x="13.60" y="265.10" font-family='"Liberation Sans", sans-serif' font-size="14.3" font-weight="bold" text-anchor="start" fill="#000" stroke="#000" stroke-width="0.35">E</text>
<text x="25.40" y="265.70" font-family='"Liberation Serif", serif' font-size="7.7" font-weight="bold" text-anchor="start" fill="#000" >Males with diabetes</text>
<polygon points="33.40,279.91 34.94,280.20 36.48,280.48 38.03,280.76 39.57,281.04 41.11,281.31 42.66,281.58 44.20,281.85 45.74,282.12 47.28,282.39 48.83,282.67 50.37,282.94 51.91,283.23 53.45,283.51 54.99,283.81 56.54,284.11 58.08,284.41 59.62,284.73 61.16,285.06 62.71,285.40 64.25,285.75 65.79,286.11 67.34,286.49 68.88,286.88 70.42,287.29 71.96,287.71 73.50,288.13 75.05,288.57 76.59,289.02 78.13,289.48 79.67,289.95 81.22,290.42 82.76,290.91 84.30,291.39 85.84,291.89 87.39,292.39 88.93,292.89 90.47,293.39 92.02,293.90 93.56,294.41 95.10,294.92 96.64,295.43 98.19,295.95 99.73,296.48 101.27,297.01 102.81,297.55 104.35,298.10 105.90,298.65 107.44,299.20 108.98,299.77 110.53,300.34 112.07,300.92 113.61,301.50 115.15,302.09 116.69,302.69 118.24,303.30 119.78,303.91 121.32,304.53 122.87,305.15 124.41,305.79 125.95,306.43 127.49,307.09 129.03,307.77 130.58,308.47 132.12,309.18 133.66,309.91 135.20,310.66 136.75,311.41 138.29,312.18 139.83,312.95 141.38,313.72 142.92,314.49 144.46,315.26 146.00,316.03 147.54,316.79 149.09,317.55 150.63,318.29 152.17,319.02 153.72,319.74 155.26,320.43 156.80,321.11 158.34,321.77 159.88,322.42 161.43,323.06 162.97,323.69 164.51,324.32 166.06,324.93 167.60,325.55 169.14,326.15 170.68,326.75 172.22,327.35 173.77,327.94 175.31,328.54 176.85,329.13 178.40,329.72 179.94,330.31 181.48,330.90 183.02,331.49 184.56,332.09 186.11,332.68 187.65,333.29 189.19,333.87 190.74,334.42 192.28,334.96 193.82,335.49 195.36,336.03 196.91,336.59 198.45,337.18 199.99,337.82 201.53,338.52 203.08,339.29 204.62,340.18 206.16,341.23 207.70,342.40 209.25,343.66 210.79,345.00 212.33,346.37 213.87,347.77 215.41,349.16 216.96,350.51 218.50,351.80 218.50,351.80 216.96,350.61 215.41,349.37 213.87,348.10 212.33,346.82 210.79,345.56 209.25,344.33 207.70,343.17 206.16,342.09 204.62,341.12 203.08,340.29 201.53,339.57 199.99,338.90 198.45,338.29 196.91,337.73 195.36,337.19 193.82,336.68 192.28,336.17 190.74,335.67 189.19,335.15 187.65,334.62 186.11,334.08 184.56,333.54 183.02,333.01 181.48,332.48 179.94,331.96 178.40,331.44 176.85,330.93 175.31,330.41 173.77,329.90 172.22,329.39 170.68,328.88 169.14,328.36 167.60,327.85 166.06,327.33 164.51,326.81 162.97,326.28 161.43,325.75 159.88,325.21 158.34,324.66 156.80,324.11 155.26,323.55 153.72,322.96 152.17,322.37 150.63,321.76 149.09,321.14 147.54,320.51 146.00,319.88 144.46,319.24 142.92,318.61 141.38,317.98 139.83,317.35 138.29,316.73 136.75,316.11 135.20,315.51 133.66,314.92 132.12,314.35 130.58,313.80 129.03,313.26 127.49,312.75 125.95,312.27 124.41,311.80 122.87,311.35 121.32,310.92 119.78,310.49 118.24,310.08 116.69,309.68 115.15,309.28 113.61,308.89 112.07,308.51 110.53,308.14 108.98,307.77 107.44,307.40 105.90,307.03 104.35,306.67 102.81,306.30 101.27,305.93 99.73,305.57 98.19,305.19 96.64,304.81 95.10,304.43 93.56,304.04 92.02,303.63 90.47,303.23 88.93,302.81 87.39,302.39 85.84,301.97 84.30,301.55 82.76,301.13 81.22,300.71 79.67,300.30 78.13,299.89 76.59,299.49 75.05,299.10 73.50,298.72 71.96,298.35 70.42,298.00 68.88,297.66 67.34,297.34 65.79,297.04 64.25,296.76 62.71,296.49 61.16,296.24 59.62,296.00 58.08,295.76 56.54,295.54 54.99,295.32 53.45,295.11 51.91,294.91 50.37,294.71 48.83,294.52 47.28,294.33 45.74,294.14 44.20,293.95 42.66,293.76 41.11,293.57 39.57,293.38 38.03,293.19 36.48,292.99 34.94,292.79 33.40,292.59" fill="#BDD7EE"/>
<polygon points="33.40,292.59 34.94,292.79 36.48,292.99 38.03,293.19 39.57,293.38 41.11,293.57 42.66,293.76 44.20,293.95 45.74,294.14 47.28,294.33 48.83,294.52 50.37,294.71 51.91,294.91 53.45,295.11 54.99,295.32 56.54,295.54 58.08,295.76 59.62,296.00 61.16,296.24 62.71,296.49 64.25,296.76 65.79,297.04 67.34,297.34 68.88,297.66 70.42,298.00 71.96,298.35 73.50,298.72 75.05,299.10 76.59,299.49 78.13,299.89 79.67,300.30 81.22,300.71 82.76,301.13 84.30,301.55 85.84,301.97 87.39,302.39 88.93,302.81 90.47,303.23 92.02,303.63 93.56,304.04 95.10,304.43 96.64,304.81 98.19,305.19 99.73,305.57 101.27,305.93 102.81,306.30 104.35,306.67 105.90,307.03 107.44,307.40 108.98,307.77 110.53,308.14 112.07,308.51 113.61,308.89 115.15,309.28 116.69,309.68 118.24,310.08 119.78,310.49 121.32,310.92 122.87,311.35 124.41,311.80 125.95,312.27 127.49,312.75 129.03,313.26 130.58,313.80 132.12,314.35 133.66,314.92 135.20,315.51 136.75,316.11 138.29,316.73 139.83,317.35 141.38,317.98 142.92,318.61 144.46,319.24 146.00,319.88 147.54,320.51 149.09,321.14 150.63,321.76 152.17,322.37 153.72,322.96 155.26,323.55 156.80,324.11 158.34,324.66 159.88,325.21 161.43,325.75 162.97,326.28 164.51,326.81 166.06,327.33 167.60,327.85 169.14,328.36 170.68,328.88 172.22,329.39 173.77,329.90 175.31,330.41 176.85,330.93 178.40,331.44 179.94,331.96 181.48,332.48 183.02,333.01 184.56,333.54 186.11,334.08 187.65,334.62 189.19,335.15 190.74,335.67 192.28,336.17 193.82,336.68 195.36,337.19 196.91,337.73 198.45,338.29 199.99,338.90 201.53,339.57 203.08,340.29 204.62,341.12 206.16,342.09 207.70,343.17 209.25,344.33 210.79,345.56 212.33,346.82 213.87,348.10 215.41,349.37 216.96,350.61 218.50,351.80 218.50,351.80 216.96,351.23 215.41,350.63 213.87,350.01 212.33,349.38 210.79,348.77 209.25,348.18 207.70,347.62 206.16,347.11 204.62,346.67 203.08,346.30 201.53,345.99 199.99,345.71 198.45,345.47 196.91,345.24 195.36,345.03 193.82,344.83 192.28,344.63 190.74,344.42 189.19,344.20 187.65,343.96 186.11,343.70 184.56,343.44 183.02,343.18 181.48,342.91 179.94,342.63 178.40,342.35 176.85,342.07 175.31,341.79 173.77,341.50 172.22,341.21 170.68,340.92 169.14,340.63 167.60,340.33 166.06,340.04 164.51,339.75 162.97,339.45 161.43,339.16 159.88,338.87 158.34,338.58 156.80,338.29 155.26,338.00 153.72,337.71 152.17,337.41 150.63,337.12 149.09,336.82 147.54,336.52 146.00,336.22 144.46,335.92 142.92,335.62 141.38,335.32 139.83,335.03 138.29,334.73 136.75,334.43 135.20,334.14 133.66,333.85 132.12,333.56 130.58,333.28 129.03,333.00 127.49,332.72 125.95,332.45 124.41,332.18 122.87,331.92 121.32,331.65 119.78,331.39 118.24,331.12 116.69,330.86 115.15,330.61 113.61,330.35 112.07,330.10 110.53,329.84 108.98,329.59 107.44,329.35 105.90,329.10 104.35,328.86 102.81,328.62 101.27,328.38 99.73,328.14 98.19,327.91 96.64,327.68 95.10,327.45 93.56,327.22 92.02,327.00 90.47,326.78 88.93,326.56 87.39,326.34 85.84,326.13 84.30,325.92 82.76,325.71 81.22,325.50 79.67,325.29 78.13,325.09 76.59,324.88 75.05,324.68 73.50,324.48 71.96,324.28 70.42,324.08 68.88,323.88 67.34,323.68 65.79,323.48 64.25,323.28 62.71,323.08 61.16,322.88 59.62,322.68 58.08,322.49 56.54,322.30 54.99,322.10 53.45,321.91 51.91,321.72 50.37,321.53 48.83,321.34 47.28,321.15 45.74,320.96 44.20,320.77 42.66,320.58 41.11,320.39 39.57,320.20 38.03,320.01 36.48,319.82 34.94,319.63 33.40,319.44" fill="#F8CBAD"/>
<polygon points="33.40,319.44 34.94,319.63 36.48,319.82 38.03,320.01 39.57,320.20 41.11,320.39 42.66,320.58 44.20,320.77 45.74,320.96 47.28,321.15 48.83,321.34 50.37,321.53 51.91,321.72 53.45,321.91 54.99,322.10 56.54,322.30 58.08,322.49 59.62,322.68 61.16,322.88 62.71,323.08 64.25,323.28 65.79,323.48 67.34,323.68 68.88,323.88 70.42,324.08 71.96,324.28 73.50,324.48 75.05,324.68 76.59,324.88 78.13,325.09 79.67,325.29 81.22,325.50 82.76,325.71 84.30,325.92 85.84,326.13 87.39,326.34 88.93,326.56 90.47,326.78 92.02,327.00 93.56,327.22 95.10,327.45 96.64,327.68 98.19,327.91 99.73,328.14 101.27,328.38 102.81,328.62 104.35,328.86 105.90,329.10 107.44,329.35 108.98,329.59 110.53,329.84 112.07,330.10 113.61,330.35 115.15,330.61 116.69,330.86 118.24,331.12 119.78,331.39 121.32,331.65 122.87,331.92 124.41,332.18 125.95,332.45 127.49,332.72 129.03,333.00 130.58,333.28 132.12,333.56 133.66,333.85 135.20,334.14 136.75,334.43 138.29,334.73 139.83,335.03 141.38,335.32 142.92,335.62 144.46,335.92 146.00,336.22 147.54,336.52 149.09,336.82 150.63,337.12 152.17,337.41 153.72,337.71 155.26,338.00 156.80,338.29 158.34,338.58 159.88,338.87 161.43,339.16 162.97,339.45 164.51,339.75 166.06,340.04 167.60,340.33 169.14,340.63 170.68,340.92 172.22,341.21 173.77,341.50 175.31,341.79 176.85,342.07 178.40,342.35 179.94,342.63 181.48,342.91 183.02,343.18 184.56,343.44 186.11,343.70 187.65,343.96 189.19,344.20 190.74,344.42 192.28,344.63 193.82,344.83 195.36,345.03 196.91,345.24 198.45,345.47 199.99,345.71 201.53,345.99 203.08,346.30 204.62,346.67 206.16,347.11 207.70,347.62 209.25,348.18 210.79,348.77 212.33,349.38 213.87,350.01 215.41,350.63 216.96,351.23 218.50,351.80 218.50,351.80 216.96,351.80 215.41,351.80 213.87,351.80 212.33,351.80 210.79,351.80 209.25,351.80 207.70,351.80 206.16,351.80 204.62,351.80 203.08,351.80 201.53,351.80 199.99,351.80 198.45,351.80 196.91,351.80 195.36,351.80 193.82,351.80 192.28,351.80 190.74,351.80 189.19,351.80 187.65,351.80 186.11,351.80 184.56,351.80 183.02,351.80 181.48,351.80 179.94,351.80 178.40,351.80 176.85,351.80 175.31,351.80 173.77,351.80 172.22,351.80 170.68,351.80 169.14,351.80 167.60,351.80 166.06,351.80 164.51,351.80 162.97,351.80 161.43,351.80 159.88,351.80 158.34,351.80 156.80,351.80 155.26,351.80 153.72,351.80 152.17,351.80 150.63,351.80 149.09,351.80 147.54,351.80 146.00,351.80 144.46,351.80 142.92,351.80 141.38,351.80 139.83,351.80 138.29,351.80 136.75,351.80 135.20,351.80 133.66,351.80 132.12,351.80 130.58,351.80 129.03,351.80 127.49,351.80 125.95,351.80 124.41,351.80 122.87,351.80 121.32,351.80 119.78,351.80 118.24,351.80 116.69,351.80 115.15,351.80 113.61,351.80 112.07,351.80 110.53,351.80 108.98,351.80 107.44,351.80 105.90,351.80 104.35,351.80 102.81,351.80 101.27,351.80 99.73,351.80 98.19,351.80 96.64,351.80 95.10,351.80 93.56,351.80 92.02,351.80 90.47,351.80 88.93,351.80 87.39,351.80 85.84,351.80 84.30,351.80 82.76,351.80 81.22,351.80 79.67,351.80 78.13,351.80 76.59,351.80 75.05,351.80 73.50,351.80 71.96,351.80 70.42,351.80 68.88,351.80 67.34,351.80 65.79,351.80 64.25,351.80 62.71,351.80 61.16,351.80 59.62,351.80 58.08,351.80 56.54,351.80 54.99,351.80 53.45,351.80 51.91,351.80 50.37,351.80 48.83,351.80 47.28,351.80 45.74,351.80 44.20,351.80 42.66,351.80 41.11,351.80 39.57,351.80 38.03,351.80 36.48,351.80 34.94,351.80 33.40,351.80" fill="#E7E6E6"/>
<line x1="33.40" y1="276.90" x2="33.40" y2="351.80" stroke="#9BB4E0" stroke-width="0.9"/>
<line x1="33.40" y1="351.80" x2="218.50" y2="351.80" stroke="#9BB4E0" stroke-width="0.9"/>
<line x1="31.90" y1="351.80" x2="33.40" y2="351.80" stroke="#9BB4E0" stroke-width="0.8"/>
<text x="27.30" y="353.80" font-family='"Liberation Serif", serif' font-size="5.8" font-weight="bold" text-anchor="middle" fill="#222" >0</text>
<line x1="31.90" y1="335.12" x2="33.40" y2="335.12" stroke="#9BB4E0" stroke-width="0.8"/>
<text x="27.30" y="337.12" font-family='"Liberation Serif", serif' font-size="5.8" font-weight="bold" text-anchor="middle" fill="#222" >1</text>
<line x1="31.90" y1="318.44" x2="33.40" y2="318.44" stroke="#9BB4E0" stroke-width="0.8"/>
<text x="27.30" y="320.44" font-family='"Liberation Serif", serif' font-size="5.8" font-weight="bold" text-anchor="middle" fill="#222" >2</text>
<line x1="31.90" y1="301.76" x2="33.40" y2="301.76" stroke="#9BB4E0" stroke-width="0.8"/>
<text x="27.30" y="303.76" font-family='"Liberation Serif", serif' font-size="5.8" font-weight="bold" text-anchor="middle" fill="#222" >3</text>
<line x1="31.90" y1="285.08" x2="33.40" y2="285.08" stroke="#9BB4E0" stroke-width="0.8"/>
<text x="27.30" y="287.08" font-family='"Liberation Serif", serif' font-size="5.8" font-weight="bold" text-anchor="middle" fill="#222" >4</text>
<text x="33.40" y="360.70" font-family='"Liberation Serif", serif' font-size="5.8" font-weight="bold" text-anchor="middle" fill="#222" >40</text>
<text x="64.25" y="360.70" font-family='"Liberation Serif", serif' font-size="5.8" font-weight="bold" text-anchor="middle" fill="#222" >50</text>
<text x="95.10" y="360.70" font-family='"Liberation Serif", serif' font-size="5.8" font-weight="bold" text-anchor="middle" fill="#222" >60</text>
<text x="125.95" y="360.70" font-family='"Liberation Serif", serif' font-size="5.8" font-weight="bold" text-anchor="middle" fill="#222" >70</text>
<text x="156.80" y="360.70" font-family='"Liberation Serif", serif' font-size="5.8" font-weight="bold" text-anchor="middle" fill="#222" >80</text>
<text x="187.65" y="360.70" font-family='"Liberation Serif", serif' font-size="5.8" font-weight="bold" text-anchor="middle" fill="#222" >90</text>
<text x="218.50" y="360.70" font-family='"Liberation Serif", serif' font-size="5.8" font-weight="bold" text-anchor="middle" fill="#222" >100</text>
<text transform="translate(19.40,354.60) rotate(-90)" font-family='"Liberation Serif", serif' font-size="6.75" font-weight="bold">Lost life expectancy (year)</text>
<text x="113.70" y="367.50" font-family='"Liberation Serif", serif' font-size="6.7" font-weight="bold" text-anchor="middle" fill="#000" >Age (year)</text>
<rect x="133.00" y="289.80" width="2.60" height="2.60" fill="#BDD7EE"/>
<text x="137.00" y="292.60" font-family='"Liberation Serif", serif' font-size="5.75" font-weight="bold" text-anchor="start" fill="#000" >Cancer</text>
<rect x="160.30" y="289.80" width="2.60" height="2.60" fill="#F8CBAD"/>
<text x="164.30" y="292.60" font-family='"Liberation Serif", serif' font-size="5.75" font-weight="bold" text-anchor="start" fill="#000" >CVD</text>
<rect x="184.00" y="289.80" width="2.60" height="2.60" fill="#E7E6E6"/>
<text x="188.00" y="292.60" font-family='"Liberation Serif", serif' font-size="5.75" font-weight="bold" text-anchor="start" fill="#000" >Others</text>
<text x="294.60" y="262.30" font-family='"Liberation Sans", sans-serif' font-size="14.3" font-weight="bold" text-anchor="start" fill="#000" stroke="#000" stroke-width="0.35">F</text>
<text x="305.20" y="263.10" font-family='"Liberation Serif", serif' font-size="7.7" font-weight="bold" text-anchor="start" fill="#000" >Females with diabetes</text>
<polygon points="314.40,280.27 315.93,280.42 317.47,280.56 319.00,280.70 320.54,280.83 322.07,280.97 323.60,281.10 325.14,281.23 326.67,281.36 328.21,281.50 329.74,281.63 331.28,281.77 332.81,281.91 334.34,282.05 335.88,282.20 337.41,282.35 338.95,282.51 340.48,282.68 342.01,282.85 343.55,283.03 345.08,283.22 346.62,283.42 348.15,283.62 349.69,283.84 351.22,284.07 352.75,284.31 354.29,284.56 355.82,284.82 357.36,285.08 358.89,285.36 360.42,285.64 361.96,285.93 363.49,286.22 365.03,286.52 366.56,286.83 368.10,287.14 369.63,287.46 371.16,287.78 372.70,288.11 374.23,288.44 375.77,288.78 377.30,289.12 378.83,289.47 380.37,289.82 381.90,290.19 383.44,290.57 384.97,290.95 386.51,291.35 388.04,291.75 389.57,292.16 391.11,292.58 392.64,293.01 394.18,293.45 395.71,293.89 397.25,294.35 398.78,294.82 400.31,295.29 401.85,295.77 403.38,296.27 404.92,296.77 406.45,297.28 407.98,297.80 409.52,298.35 411.05,298.91 412.59,299.49 414.12,300.08 415.65,300.70 417.19,301.32 418.72,301.96 420.26,302.61 421.79,303.27 423.33,303.95 424.86,304.63 426.39,305.33 427.93,306.03 429.46,306.74 431.00,307.45 432.53,308.17 434.06,308.90 435.60,309.63 437.13,310.36 438.67,311.10 440.20,311.85 441.74,312.62 443.27,313.40 444.80,314.20 446.34,315.00 447.87,315.81 449.41,316.64 450.94,317.47 452.48,318.32 454.01,319.17 455.54,320.02 457.08,320.88 458.61,321.75 460.15,322.63 461.68,323.50 463.21,324.38 464.75,325.27 466.28,326.15 467.82,327.04 469.35,327.92 470.88,328.81 472.42,329.70 473.95,330.61 475.49,331.52 477.02,332.45 478.56,333.39 480.09,334.35 481.62,335.34 483.16,336.36 484.69,337.40 486.23,338.49 487.76,339.62 489.30,340.76 490.83,341.93 492.36,343.11 493.90,344.29 495.43,345.47 496.97,346.64 498.50,347.80 498.50,347.80 496.97,346.74 495.43,345.67 493.90,344.59 492.36,343.51 490.83,342.43 489.30,341.37 487.76,340.32 486.23,339.29 484.69,338.29 483.16,337.34 481.62,336.41 480.09,335.49 478.56,334.60 477.02,333.72 475.49,332.86 473.95,332.02 472.42,331.20 470.88,330.39 469.35,329.60 467.82,328.83 466.28,328.07 464.75,327.32 463.21,326.56 461.68,325.81 460.15,325.06 458.61,324.32 457.08,323.59 455.54,322.86 454.01,322.15 452.48,321.45 450.94,320.77 449.41,320.09 447.87,319.44 446.34,318.80 444.80,318.18 443.27,317.59 441.74,317.01 440.20,316.46 438.67,315.93 437.13,315.43 435.60,314.94 434.06,314.47 432.53,314.01 431.00,313.55 429.46,313.11 427.93,312.68 426.39,312.25 424.86,311.84 423.33,311.44 421.79,311.05 420.26,310.67 418.72,310.30 417.19,309.94 415.65,309.59 414.12,309.26 412.59,308.93 411.05,308.62 409.52,308.31 407.98,308.02 406.45,307.74 404.92,307.47 403.38,307.21 401.85,306.95 400.31,306.70 398.78,306.46 397.25,306.22 395.71,305.99 394.18,305.77 392.64,305.55 391.11,305.34 389.57,305.13 388.04,304.93 386.51,304.73 384.97,304.54 383.44,304.35 381.90,304.17 380.37,304.00 378.83,303.82 377.30,303.66 375.77,303.49 374.23,303.33 372.70,303.18 371.16,303.02 369.63,302.87 368.10,302.73 366.56,302.58 365.03,302.45 363.49,302.31 361.96,302.18 360.42,302.05 358.89,301.92 357.36,301.79 355.82,301.67 354.29,301.55 352.75,301.43 351.22,301.32 349.69,301.20 348.15,301.09 346.62,300.98 345.08,300.88 343.55,300.77 342.01,300.67 340.48,300.57 338.95,300.47 337.41,300.38 335.88,300.29 334.34,300.20 332.81,300.11 331.28,300.02 329.74,299.93 328.21,299.85 326.67,299.76 325.14,299.68 323.60,299.60 322.07,299.51 320.54,299.43 319.00,299.34 317.47,299.25 315.93,299.17 314.40,299.08" fill="#BDD7EE"/>
<polygon points="314.40,299.08 315.93,299.17 317.47,299.25 319.00,299.34 320.54,299.43 322.07,299.51 323.60,299.60 325.14,299.68 326.67,299.76 328.21,299.85 329.74,299.93 331.28,300.02 332.81,300.11 334.34,300.20 335.88,300.29 337.41,300.38 338.95,300.47 340.48,300.57 342.01,300.67 343.55,300.77 345.08,300.88 346.62,300.98 348.15,301.09 349.69,301.20 351.22,301.32 352.75,301.43 354.29,301.55 355.82,301.67 357.36,301.79 358.89,301.92 360.42,302.05 361.96,302.18 363.49,302.31 365.03,302.45 366.56,302.58 368.10,302.73 369.63,302.87 371.16,303.02 372.70,303.18 374.23,303.33 375.77,303.49 377.30,303.66 378.83,303.82 380.37,304.00 381.90,304.17 383.44,304.35 384.97,304.54 386.51,304.73 388.04,304.93 389.57,305.13 391.11,305.34 392.64,305.55 394.18,305.77 395.71,305.99 397.25,306.22 398.78,306.46 400.31,306.70 401.85,306.95 403.38,307.21 404.92,307.47 406.45,307.74 407.98,308.02 409.52,308.31 411.05,308.62 412.59,308.93 414.12,309.26 415.65,309.59 417.19,309.94 418.72,310.30 420.26,310.67 421.79,311.05 423.33,311.44 424.86,311.84 426.39,312.25 427.93,312.68 429.46,313.11 431.00,313.55 432.53,314.01 434.06,314.47 435.60,314.94 437.13,315.43 438.67,315.93 440.20,316.46 441.74,317.01 443.27,317.59 444.80,318.18 446.34,318.80 447.87,319.44 449.41,320.09 450.94,320.77 452.48,321.45 454.01,322.15 455.54,322.86 457.08,323.59 458.61,324.32 460.15,325.06 461.68,325.81 463.21,326.56 464.75,327.32 466.28,328.07 467.82,328.83 469.35,329.60 470.88,330.39 472.42,331.20 473.95,332.02 475.49,332.86 477.02,333.72 478.56,334.60 480.09,335.49 481.62,336.41 483.16,337.34 484.69,338.29 486.23,339.29 487.76,340.32 489.30,341.37 490.83,342.43 492.36,343.51 493.90,344.59 495.43,345.67 496.97,346.74 498.50,347.80 498.50,347.80 496.97,347.37 495.43,346.92 493.90,346.46 492.36,346.00 490.83,345.55 489.30,345.10 487.76,344.68 486.23,344.27 484.69,343.89 483.16,343.55 481.62,343.24 480.09,342.95 478.56,342.68 477.02,342.43 475.49,342.18 473.95,341.94 472.42,341.70 470.88,341.45 469.35,341.20 467.82,340.93 466.28,340.65 464.75,340.35 463.21,340.04 461.68,339.72 460.15,339.39 458.61,339.05 457.08,338.71 455.54,338.37 454.01,338.03 452.48,337.69 450.94,337.36 449.41,337.04 447.87,336.73 446.34,336.43 444.80,336.15 443.27,335.88 441.74,335.64 440.20,335.42 438.67,335.22 437.13,335.05 435.60,334.89 434.06,334.75 432.53,334.61 431.00,334.48 429.46,334.36 427.93,334.24 426.39,334.12 424.86,334.02 423.33,333.91 421.79,333.81 420.26,333.71 418.72,333.62 417.19,333.53 415.65,333.44 414.12,333.35 412.59,333.27 411.05,333.18 409.52,333.09 407.98,333.01 406.45,332.92 404.92,332.84 403.38,332.75 401.85,332.67 400.31,332.60 398.78,332.52 397.25,332.45 395.71,332.37 394.18,332.30 392.64,332.23 391.11,332.16 389.57,332.09 388.04,332.02 386.51,331.96 384.97,331.89 383.44,331.82 381.90,331.75 380.37,331.67 378.83,331.60 377.30,331.53 375.77,331.45 374.23,331.37 372.70,331.29 371.16,331.21 369.63,331.12 368.10,331.04 366.56,330.95 365.03,330.87 363.49,330.78 361.96,330.69 360.42,330.61 358.89,330.52 357.36,330.44 355.82,330.35 354.29,330.27 352.75,330.19 351.22,330.11 349.69,330.03 348.15,329.96 346.62,329.88 345.08,329.81 343.55,329.75 342.01,329.68 340.48,329.62 338.95,329.56 337.41,329.50 335.88,329.44 334.34,329.38 332.81,329.33 331.28,329.27 329.74,329.22 328.21,329.16 326.67,329.11 325.14,329.05 323.60,329.00 322.07,328.95 320.54,328.89 319.00,328.84 317.47,328.78 315.93,328.73 314.40,328.67" fill="#F8CBAD"/>
<polygon points="314.40,328.67 315.93,328.73 317.47,328.78 319.00,328.84 320.54,328.89 322.07,328.95 323.60,329.00 325.14,329.05 326.67,329.11 328.21,329.16 329.74,329.22 331.28,329.27 332.81,329.33 334.34,329.38 335.88,329.44 337.41,329.50 338.95,329.56 340.48,329.62 342.01,329.68 343.55,329.75 345.08,329.81 346.62,329.88 348.15,329.96 349.69,330.03 351.22,330.11 352.75,330.19 354.29,330.27 355.82,330.35 357.36,330.44 358.89,330.52 360.42,330.61 361.96,330.69 363.49,330.78 365.03,330.87 366.56,330.95 368.10,331.04 369.63,331.12 371.16,331.21 372.70,331.29 374.23,331.37 375.77,331.45 377.30,331.53 378.83,331.60 380.37,331.67 381.90,331.75 383.44,331.82 384.97,331.89 386.51,331.96 388.04,332.02 389.57,332.09 391.11,332.16 392.64,332.23 394.18,332.30 395.71,332.37 397.25,332.45 398.78,332.52 400.31,332.60 401.85,332.67 403.38,332.75 404.92,332.84 406.45,332.92 407.98,333.01 409.52,333.09 411.05,333.18 412.59,333.27 414.12,333.35 415.65,333.44 417.19,333.53 418.72,333.62 420.26,333.71 421.79,333.81 423.33,333.91 424.86,334.02 426.39,334.12 427.93,334.24 429.46,334.36 431.00,334.48 432.53,334.61 434.06,334.75 435.60,334.89 437.13,335.05 438.67,335.22 440.20,335.42 441.74,335.64 443.27,335.88 444.80,336.15 446.34,336.43 447.87,336.73 449.41,337.04 450.94,337.36 452.48,337.69 454.01,338.03 455.54,338.37 457.08,338.71 458.61,339.05 460.15,339.39 461.68,339.72 463.21,340.04 464.75,340.35 466.28,340.65 467.82,340.93 469.35,341.20 470.88,341.45 472.42,341.70 473.95,341.94 475.49,342.18 477.02,342.43 478.56,342.68 480.09,342.95 481.62,343.24 483.16,343.55 484.69,343.89 486.23,344.27 487.76,344.68 489.30,345.10 490.83,345.55 492.36,346.00 493.90,346.46 495.43,346.92 496.97,347.37 498.50,347.80 498.50,347.80 496.97,347.80 495.43,347.80 493.90,347.80 492.36,347.80 490.83,347.80 489.30,347.80 487.76,347.80 486.23,347.80 484.69,347.80 483.16,347.80 481.62,347.80 480.09,347.80 478.56,347.80 477.02,347.80 475.49,347.80 473.95,347.80 472.42,347.80 470.88,347.80 469.35,347.80 467.82,347.80 466.28,347.80 464.75,347.80 463.21,347.80 461.68,347.80 460.15,347.80 458.61,347.80 457.08,347.80 455.54,347.80 454.01,347.80 452.48,347.80 450.94,347.80 449.41,347.80 447.87,347.80 446.34,347.80 444.80,347.80 443.27,347.80 441.74,347.80 440.20,347.80 438.67,347.80 437.13,347.80 435.60,347.80 434.06,347.80 432.53,347.80 431.00,347.80 429.46,347.80 427.93,347.80 426.39,347.80 424.86,347.80 423.33,347.80 421.79,347.80 420.26,347.80 418.72,347.80 417.19,347.80 415.65,347.80 414.12,347.80 412.59,347.80 411.05,347.80 409.52,347.80 407.98,347.80 406.45,347.80 404.92,347.80 403.38,347.80 401.85,347.80 400.31,347.80 398.78,347.80 397.25,347.80 395.71,347.80 394.18,347.80 392.64,347.80 391.11,347.80 389.57,347.80 388.04,347.80 386.51,347.80 384.97,347.80 383.44,347.80 381.90,347.80 380.37,347.80 378.83,347.80 377.30,347.80 375.77,347.80 374.23,347.80 372.70,347.80 371.16,347.80 369.63,347.80 368.10,347.80 366.56,347.80 365.03,347.80 363.49,347.80 361.96,347.80 360.42,347.80 358.89,347.80 357.36,347.80 355.82,347.80 354.29,347.80 352.75,347.80 351.22,347.80 349.69,347.80 348.15,347.80 346.62,347.80 345.08,347.80 343.55,347.80 342.01,347.80 340.48,347.80 338.95,347.80 337.41,347.80 335.88,347.80 334.34,347.80 332.81,347.80 331.28,347.80 329.74,347.80 328.21,347.80 326.67,347.80 325.14,347.80 323.60,347.80 322.07,347.80 320.54,347.80 319.00,347.80 317.47,347.80 315.93,347.80 314.40,347.80" fill="#E7E6E6"/>
<line x1="314.40" y1="274.30" x2="314.40" y2="347.80" stroke="#9BB4E0" stroke-width="0.9"/>
<line x1="314.40" y1="347.80" x2="498.50" y2="347.80" stroke="#9BB4E0" stroke-width="0.9"/>
<line x1="312.90" y1="347.80" x2="314.40" y2="347.80" stroke="#9BB4E0" stroke-width="0.8"/>
<text x="308.30" y="349.80" font-family='"Liberation Serif", serif' font-size="5.8" font-weight="bold" text-anchor="middle" fill="#222" >0</text>
<line x1="312.90" y1="331.45" x2="314.40" y2="331.45" stroke="#9BB4E0" stroke-width="0.8"/>
<text x="308.30" y="333.45" font-family='"Liberation Serif", serif' font-size="5.8" font-weight="bold" text-anchor="middle" fill="#222" >1</text>
<line x1="312.90" y1="315.10" x2="314.40" y2="315.10" stroke="#9BB4E0" stroke-width="0.8"/>
<text x="308.30" y="317.10" font-family='"Liberation Serif", serif' font-size="5.8" font-weight="bold" text-anchor="middle" fill="#222" >2</text>
<line x1="312.90" y1="298.75" x2="314.40" y2="298.75" stroke="#9BB4E0" stroke-width="0.8"/>
<text x="308.30" y="300.75" font-family='"Liberation Serif", serif' font-size="5.8" font-weight="bold" text-anchor="middle" fill="#222" >3</text>
<line x1="312.90" y1="282.40" x2="314.40" y2="282.40" stroke="#9BB4E0" stroke-width="0.8"/>
<text x="308.30" y="284.40" font-family='"Liberation Serif", serif' font-size="5.8" font-weight="bold" text-anchor="middle" fill="#222" >4</text>
<text x="314.40" y="356.60" font-family='"Liberation Serif", serif' font-size="5.8" font-weight="bold" text-anchor="middle" fill="#222" >40</text>
<text x="345.08" y="356.60" font-family='"Liberation Serif", serif' font-size="5.8" font-weight="bold" text-anchor="middle" fill="#222" >50</text>
<text x="375.77" y="356.60" font-family='"Liberation Serif", serif' font-size="5.8" font-weight="bold" text-anchor="middle" fill="#222" >60</text>
<text x="406.45" y="356.60" font-family='"Liberation Serif", serif' font-size="5.8" font-weight="bold" text-anchor="middle" fill="#222" >70</text>
<text x="437.13" y="356.60" font-family='"Liberation Serif", serif' font-size="5.8" font-weight="bold" text-anchor="middle" fill="#222" >80</text>
<text x="467.82" y="356.60" font-family='"Liberation Serif", serif' font-size="5.8" font-weight="bold" text-anchor="middle" fill="#222" >90</text>
<text x="498.50" y="356.60" font-family='"Liberation Serif", serif' font-size="5.8" font-weight="bold" text-anchor="middle" fill="#222" >100</text>
<text transform="translate(300.00,351.50) rotate(-90)" font-family='"Liberation Serif", serif' font-size="6.75" font-weight="bold">Lost life expectancy (year)</text>
<text x="394.20" y="363.80" font-family='"Liberation Serif", serif' font-size="6.7" font-weight="bold" text-anchor="middle" fill="#000" >Age (year)</text>
<rect x="413.40" y="287.50" width="2.60" height="2.60" fill="#BDD7EE"/>
<text x="417.40" y="290.30" font-family='"Liberation Serif", serif' font-size="5.75" font-weight="bold" text-anchor="start" fill="#000" >Cancer</text>
<rect x="440.70" y="287.50" width="2.60" height="2.60" fill="#F8CBAD"/>
<text x="444.70" y="290.30" font-family='"Liberation Serif", serif' font-size="5.75" font-weight="bold" text-anchor="start" fill="#000" >CVD</text>
<rect x="464.40" y="287.50" width="2.60" height="2.60" fill="#E7E6E6"/>
<text x="468.40" y="290.30" font-family='"Liberation Serif", serif' font-size="5.75" font-weight="bold" text-anchor="start" fill="#000" >Others</text>
<text x="13.40" y="385.50" font-family='"Liberation Sans", sans-serif' font-size="14.3" font-weight="bold" text-anchor="start" fill="#000" stroke="#000" stroke-width="0.35">G</text>
<text x="26.70" y="386.00" font-family='"Liberation Serif", serif' font-size="7.7" font-weight="bold" text-anchor="start" fill="#000" >Males with prediabetes</text>
<polygon points="33.30,407.19 34.81,407.40 36.32,407.61 37.84,407.81 39.35,408.02 40.86,408.22 42.38,408.42 43.89,408.62 45.40,408.82 46.91,409.02 48.42,409.22 49.94,409.42 51.45,409.63 52.96,409.84 54.47,410.06 55.99,410.28 57.50,410.51 59.01,410.74 60.52,410.98 62.04,411.23 63.55,411.49 65.06,411.76 66.57,412.04 68.09,412.33 69.60,412.63 71.11,412.94 72.62,413.25 74.14,413.58 75.65,413.91 77.16,414.25 78.67,414.60 80.19,414.95 81.70,415.31 83.21,415.68 84.72,416.05 86.24,416.43 87.75,416.81 89.26,417.20 90.78,417.59 92.29,418.00 93.80,418.42 95.31,418.85 96.82,419.29 98.34,419.75 99.85,420.21 101.36,420.69 102.88,421.17 104.39,421.66 105.90,422.16 107.41,422.67 108.92,423.19 110.44,423.72 111.95,424.26 113.46,424.81 114.97,425.38 116.49,425.95 118.00,426.54 119.51,427.14 121.02,427.74 122.54,428.36 124.05,428.98 125.56,429.61 127.07,430.26 128.59,430.94 130.10,431.63 131.61,432.33 133.12,433.05 134.64,433.76 136.15,434.48 137.66,435.20 139.18,435.91 140.69,436.60 142.20,437.28 143.71,437.95 145.22,438.62 146.74,439.28 148.25,439.95 149.76,440.61 151.27,441.26 152.79,441.91 154.30,442.54 155.81,443.17 157.32,443.78 158.84,444.37 160.35,444.95 161.86,445.51 163.38,446.06 164.89,446.60 166.40,447.12 167.91,447.64 169.43,448.15 170.94,448.65 172.45,449.15 173.96,449.65 175.47,450.15 176.99,450.63 178.50,451.08 180.01,451.52 181.52,451.95 183.04,452.39 184.55,452.85 186.06,453.35 187.57,453.89 189.09,454.49 190.60,455.17 192.11,455.94 193.62,456.78 195.14,457.66 196.65,458.57 198.16,459.49 199.68,460.41 201.19,461.33 202.70,462.28 204.21,463.25 205.72,464.24 207.24,465.25 208.75,466.26 210.26,467.28 211.77,468.29 213.29,469.30 214.80,470.30 214.80,470.30 213.29,469.45 211.77,468.59 210.26,467.74 208.75,466.89 207.24,466.03 205.72,465.18 204.21,464.33 202.70,463.48 201.19,462.63 199.68,461.78 198.16,460.92 196.65,460.03 195.14,459.14 193.62,458.26 192.11,457.41 190.60,456.61 189.09,455.87 187.57,455.20 186.06,454.55 184.55,453.92 183.04,453.32 181.52,452.75 180.01,452.20 178.50,451.69 176.99,451.22 175.47,450.79 173.96,450.39 172.45,450.02 170.94,449.67 169.43,449.35 167.91,449.04 166.40,448.73 164.89,448.44 163.38,448.15 161.86,447.85 160.35,447.55 158.84,447.25 157.32,446.95 155.81,446.66 154.30,446.38 152.79,446.09 151.27,445.81 149.76,445.53 148.25,445.24 146.74,444.95 145.22,444.66 143.71,444.35 142.20,444.04 140.69,443.71 139.18,443.38 137.66,443.04 136.15,442.69 134.64,442.34 133.12,441.98 131.61,441.63 130.10,441.27 128.59,440.91 127.07,440.56 125.56,440.21 124.05,439.87 122.54,439.52 121.02,439.17 119.51,438.82 118.00,438.48 116.49,438.13 114.97,437.78 113.46,437.44 111.95,437.11 110.44,436.78 108.92,436.45 107.41,436.13 105.90,435.82 104.39,435.50 102.88,435.18 101.36,434.87 99.85,434.56 98.34,434.26 96.82,433.96 95.31,433.67 93.80,433.40 92.29,433.13 90.78,432.88 89.26,432.65 87.75,432.43 86.24,432.21 84.72,432.01 83.21,431.80 81.70,431.61 80.19,431.41 78.67,431.23 77.16,431.05 75.65,430.87 74.14,430.69 72.62,430.52 71.11,430.35 69.60,430.19 68.09,430.02 66.57,429.86 65.06,429.70 63.55,429.54 62.04,429.38 60.52,429.22 59.01,429.07 57.50,428.92 55.99,428.77 54.47,428.63 52.96,428.49 51.45,428.35 49.94,428.21 48.42,428.07 46.91,427.93 45.40,427.80 43.89,427.66 42.38,427.53 40.86,427.39 39.35,427.25 37.84,427.12 36.32,426.98 34.81,426.84 33.30,426.70" fill="#BDD7EE"/>
<polygon points="33.30,426.70 34.81,426.84 36.32,426.98 37.84,427.12 39.35,427.25 40.86,427.39 42.38,427.53 43.89,427.66 45.40,427.80 46.91,427.93 48.42,428.07 49.94,428.21 51.45,428.35 52.96,428.49 54.47,428.63 55.99,428.77 57.50,428.92 59.01,429.07 60.52,429.22 62.04,429.38 63.55,429.54 65.06,429.70 66.57,429.86 68.09,430.02 69.60,430.19 71.11,430.35 72.62,430.52 74.14,430.69 75.65,430.87 77.16,431.05 78.67,431.23 80.19,431.41 81.70,431.61 83.21,431.80 84.72,432.01 86.24,432.21 87.75,432.43 89.26,432.65 90.78,432.88 92.29,433.13 93.80,433.40 95.31,433.67 96.82,433.96 98.34,434.26 99.85,434.56 101.36,434.87 102.88,435.18 104.39,435.50 105.90,435.82 107.41,436.13 108.92,436.45 110.44,436.78 111.95,437.11 113.46,437.44 114.97,437.78 116.49,438.13 118.00,438.48 119.51,438.82 121.02,439.17 122.54,439.52 124.05,439.87 125.56,440.21 127.07,440.56 128.59,440.91 130.10,441.27 131.61,441.63 133.12,441.98 134.64,442.34 136.15,442.69 137.66,443.04 139.18,443.38 140.69,443.71 142.20,444.04 143.71,444.35 145.22,444.66 146.74,444.95 148.25,445.24 149.76,445.53 151.27,445.81 152.79,446.09 154.30,446.38 155.81,446.66 157.32,446.95 158.84,447.25 160.35,447.55 161.86,447.85 163.38,448.15 164.89,448.44 166.40,448.73 167.91,449.04 169.43,449.35 170.94,449.67 172.45,450.02 173.96,450.39 175.47,450.79 176.99,451.22 178.50,451.69 180.01,452.20 181.52,452.75 183.04,453.32 184.55,453.92 186.06,454.55 187.57,455.20 189.09,455.87 190.60,456.61 192.11,457.41 193.62,458.26 195.14,459.14 196.65,460.03 198.16,460.92 199.68,461.78 201.19,462.63 202.70,463.48 204.21,464.33 205.72,465.18 207.24,466.03 208.75,466.89 210.26,467.74 211.77,468.59 213.29,469.45 214.80,470.30 214.80,470.30 213.29,469.96 211.77,469.60 210.26,469.22 208.75,468.84 207.24,468.47 205.72,468.11 204.21,467.78 202.70,467.50 201.19,467.26 199.68,467.09 198.16,466.97 196.65,466.86 195.14,466.77 193.62,466.69 192.11,466.62 190.60,466.54 189.09,466.47 187.57,466.39 186.06,466.32 184.55,466.24 183.04,466.17 181.52,466.10 180.01,466.03 178.50,465.96 176.99,465.89 175.47,465.81 173.96,465.73 172.45,465.64 170.94,465.54 169.43,465.45 167.91,465.35 166.40,465.25 164.89,465.16 163.38,465.07 161.86,464.98 160.35,464.91 158.84,464.84 157.32,464.78 155.81,464.72 154.30,464.66 152.79,464.61 151.27,464.56 149.76,464.50 148.25,464.45 146.74,464.40 145.22,464.35 143.71,464.30 142.20,464.24 140.69,464.19 139.18,464.13 137.66,464.08 136.15,464.02 134.64,463.97 133.12,463.91 131.61,463.86 130.10,463.80 128.59,463.75 127.07,463.69 125.56,463.64 124.05,463.58 122.54,463.53 121.02,463.47 119.51,463.42 118.00,463.36 116.49,463.31 114.97,463.25 113.46,463.20 111.95,463.14 110.44,463.09 108.92,463.03 107.41,462.97 105.90,462.91 104.39,462.86 102.88,462.80 101.36,462.74 99.85,462.68 98.34,462.62 96.82,462.56 95.31,462.50 93.80,462.43 92.29,462.36 90.78,462.29 89.26,462.21 87.75,462.12 86.24,462.02 84.72,461.91 83.21,461.79 81.70,461.67 80.19,461.55 78.67,461.42 77.16,461.29 75.65,461.15 74.14,461.02 72.62,460.89 71.11,460.77 69.60,460.64 68.09,460.53 66.57,460.42 65.06,460.32 63.55,460.22 62.04,460.14 60.52,460.06 59.01,459.98 57.50,459.90 55.99,459.83 54.47,459.76 52.96,459.69 51.45,459.62 49.94,459.56 48.42,459.49 46.91,459.43 45.40,459.36 43.89,459.30 42.38,459.24 40.86,459.18 39.35,459.11 37.84,459.05 36.32,458.98 34.81,458.92 33.30,458.85" fill="#F8CBAD"/>
<polygon points="33.30,458.85 34.81,458.92 36.32,458.98 37.84,459.05 39.35,459.11 40.86,459.18 42.38,459.24 43.89,459.30 45.40,459.36 46.91,459.43 48.42,459.49 49.94,459.56 51.45,459.62 52.96,459.69 54.47,459.76 55.99,459.83 57.50,459.90 59.01,459.98 60.52,460.06 62.04,460.14 63.55,460.22 65.06,460.32 66.57,460.42 68.09,460.53 69.60,460.64 71.11,460.77 72.62,460.89 74.14,461.02 75.65,461.15 77.16,461.29 78.67,461.42 80.19,461.55 81.70,461.67 83.21,461.79 84.72,461.91 86.24,462.02 87.75,462.12 89.26,462.21 90.78,462.29 92.29,462.36 93.80,462.43 95.31,462.50 96.82,462.56 98.34,462.62 99.85,462.68 101.36,462.74 102.88,462.80 104.39,462.86 105.90,462.91 107.41,462.97 108.92,463.03 110.44,463.09 111.95,463.14 113.46,463.20 114.97,463.25 116.49,463.31 118.00,463.36 119.51,463.42 121.02,463.47 122.54,463.53 124.05,463.58 125.56,463.64 127.07,463.69 128.59,463.75 130.10,463.80 131.61,463.86 133.12,463.91 134.64,463.97 136.15,464.02 137.66,464.08 139.18,464.13 140.69,464.19 142.20,464.24 143.71,464.30 145.22,464.35 146.74,464.40 148.25,464.45 149.76,464.50 151.27,464.56 152.79,464.61 154.30,464.66 155.81,464.72 157.32,464.78 158.84,464.84 160.35,464.91 161.86,464.98 163.38,465.07 164.89,465.16 166.40,465.25 167.91,465.35 169.43,465.45 170.94,465.54 172.45,465.64 173.96,465.73 175.47,465.81 176.99,465.89 178.50,465.96 180.01,466.03 181.52,466.10 183.04,466.17 184.55,466.24 186.06,466.32 187.57,466.39 189.09,466.47 190.60,466.54 192.11,466.62 193.62,466.69 195.14,466.77 196.65,466.86 198.16,466.97 199.68,467.09 201.19,467.26 202.70,467.50 204.21,467.78 205.72,468.11 207.24,468.47 208.75,468.84 210.26,469.22 211.77,469.60 213.29,469.96 214.80,470.30 214.80,470.30 213.29,470.30 211.77,470.30 210.26,470.30 208.75,470.30 207.24,470.30 205.72,470.30 204.21,470.30 202.70,470.30 201.19,470.30 199.68,470.30 198.16,470.30 196.65,470.30 195.14,470.30 193.62,470.30 192.11,470.30 190.60,470.30 189.09,470.30 187.57,470.30 186.06,470.30 184.55,470.30 183.04,470.30 181.52,470.30 180.01,470.30 178.50,470.30 176.99,470.30 175.47,470.30 173.96,470.30 172.45,470.30 170.94,470.30 169.43,470.30 167.91,470.30 166.40,470.30 164.89,470.30 163.38,470.30 161.86,470.30 160.35,470.30 158.84,470.30 157.32,470.30 155.81,470.30 154.30,470.30 152.79,470.30 151.27,470.30 149.76,470.30 148.25,470.30 146.74,470.30 145.22,470.30 143.71,470.30 142.20,470.30 140.69,470.30 139.18,470.30 137.66,470.30 136.15,470.30 134.64,470.30 133.12,470.30 131.61,470.30 130.10,470.30 128.59,470.30 127.07,470.30 125.56,470.30 124.05,470.30 122.54,470.30 121.02,470.30 119.51,470.30 118.00,470.30 116.49,470.30 114.97,470.30 113.46,470.30 111.95,470.30 110.44,470.30 108.92,470.30 107.41,470.30 105.90,470.30 104.39,470.30 102.88,470.30 101.36,470.30 99.85,470.30 98.34,470.30 96.82,470.30 95.31,470.30 93.80,470.30 92.29,470.30 90.78,470.30 89.26,470.30 87.75,470.30 86.24,470.30 84.72,470.30 83.21,470.30 81.70,470.30 80.19,470.30 78.67,470.30 77.16,470.30 75.65,470.30 74.14,470.30 72.62,470.30 71.11,470.30 69.60,470.30 68.09,470.30 66.57,470.30 65.06,470.30 63.55,470.30 62.04,470.30 60.52,470.30 59.01,470.30 57.50,470.30 55.99,470.30 54.47,470.30 52.96,470.30 51.45,470.30 49.94,470.30 48.42,470.30 46.91,470.30 45.40,470.30 43.89,470.30 42.38,470.30 40.86,470.30 39.35,470.30 37.84,470.30 36.32,470.30 34.81,470.30 33.30,470.30" fill="#E7E6E6"/>
<line x1="33.30" y1="396.30" x2="33.30" y2="470.30" stroke="#9BB4E0" stroke-width="0.9"/>
<line x1="33.30" y1="470.30" x2="214.80" y2="470.30" stroke="#9BB4E0" stroke-width="0.9"/>
<line x1="31.80" y1="470.30" x2="33.30" y2="470.30" stroke="#9BB4E0" stroke-width="0.8"/>
<text x="29.10" y="472.30" font-family='"Liberation Serif", serif' font-size="5.8" font-weight="bold" text-anchor="end" fill="#222" >0</text>
<line x1="31.80" y1="451.98" x2="33.30" y2="451.98" stroke="#9BB4E0" stroke-width="0.8"/>
<text x="29.10" y="453.98" font-family='"Liberation Serif", serif' font-size="5.8" font-weight="bold" text-anchor="end" fill="#222" >0.2</text>
<line x1="31.80" y1="433.66" x2="33.30" y2="433.66" stroke="#9BB4E0" stroke-width="0.8"/>
<text x="29.10" y="435.66" font-family='"Liberation Serif", serif' font-size="5.8" font-weight="bold" text-anchor="end" fill="#222" >0.4</text>
<line x1="31.80" y1="415.34" x2="33.30" y2="415.34" stroke="#9BB4E0" stroke-width="0.8"/>
<text x="29.10" y="417.34" font-family='"Liberation Serif", serif' font-size="5.8" font-weight="bold" text-anchor="end" fill="#222" >0.6</text>
<line x1="31.80" y1="397.02" x2="33.30" y2="397.02" stroke="#9BB4E0" stroke-width="0.8"/>
<text x="29.10" y="399.02" font-family='"Liberation Serif", serif' font-size="5.8" font-weight="bold" text-anchor="end" fill="#222" >0.8</text>
<text x="33.30" y="479.20" font-family='"Liberation Serif", serif' font-size="5.8" font-weight="bold" text-anchor="middle" fill="#222" >40</text>
<text x="63.55" y="479.20" font-family='"Liberation Serif", serif' font-size="5.8" font-weight="bold" text-anchor="middle" fill="#222" >50</text>
<text x="93.80" y="479.20" font-family='"Liberation Serif", serif' font-size="5.8" font-weight="bold" text-anchor="middle" fill="#222" >60</text>
<text x="124.05" y="479.20" font-family='"Liberation Serif", serif' font-size="5.8" font-weight="bold" text-anchor="middle" fill="#222" >70</text>
<text x="154.30" y="479.20" font-family='"Liberation Serif", serif' font-size="5.8" font-weight="bold" text-anchor="middle" fill="#222" >80</text>
<text x="184.55" y="479.20" font-family='"Liberation Serif", serif' font-size="5.8" font-weight="bold" text-anchor="middle" fill="#222" >90</text>
<text x="214.80" y="479.20" font-family='"Liberation Serif", serif' font-size="5.8" font-weight="bold" text-anchor="middle" fill="#222" >100</text>
<text transform="translate(19.40,474.20) rotate(-90)" font-family='"Liberation Serif", serif' font-size="6.75" font-weight="bold">Lost life expectancy (year)</text>
<text x="112.70" y="485.80" font-family='"Liberation Serif", serif' font-size="6.7" font-weight="bold" text-anchor="middle" fill="#000" >Age (year)</text>
<rect x="131.10" y="409.60" width="2.60" height="2.60" fill="#BDD7EE"/>
<text x="135.10" y="412.40" font-family='"Liberation Serif", serif' font-size="5.75" font-weight="bold" text-anchor="start" fill="#000" >Cancer</text>
<rect x="158.40" y="409.60" width="2.60" height="2.60" fill="#F8CBAD"/>
<text x="162.40" y="412.40" font-family='"Liberation Serif", serif' font-size="5.75" font-weight="bold" text-anchor="start" fill="#000" >CVD</text>
<rect x="182.10" y="409.60" width="2.60" height="2.60" fill="#E7E6E6"/>
<text x="186.10" y="412.40" font-family='"Liberation Serif", serif' font-size="5.75" font-weight="bold" text-anchor="start" fill="#000" >Others</text>
<text x="296.30" y="386.20" font-family='"Liberation Sans", sans-serif' font-size="14.3" font-weight="bold" text-anchor="start" fill="#000" stroke="#000" stroke-width="0.35">H</text>
<text x="310.00" y="387.30" font-family='"Liberation Serif", serif' font-size="7.7" font-weight="bold" text-anchor="start" fill="#000" >Females with prediabetes</text>
<polygon points="319.30,407.89 320.80,407.98 322.31,408.07 323.81,408.15 325.31,408.23 326.82,408.31 328.32,408.39 329.82,408.47 331.33,408.55 332.83,408.63 334.33,408.71 335.84,408.79 337.34,408.87 338.84,408.96 340.35,409.05 341.85,409.15 343.35,409.25 344.86,409.36 346.36,409.47 347.86,409.59 349.37,409.72 350.87,409.86 352.37,410.01 353.88,410.18 355.38,410.36 356.88,410.56 358.39,410.76 359.89,410.98 361.39,411.20 362.90,411.44 364.40,411.68 365.90,411.94 367.41,412.20 368.91,412.46 370.41,412.74 371.92,413.02 373.42,413.30 374.92,413.59 376.43,413.88 377.93,414.18 379.43,414.47 380.94,414.78 382.44,415.10 383.94,415.44 385.45,415.80 386.95,416.16 388.45,416.54 389.96,416.93 391.46,417.33 392.96,417.74 394.47,418.15 395.97,418.57 397.47,419.00 398.98,419.43 400.48,419.86 401.98,420.30 403.49,420.76 404.99,421.23 406.49,421.71 408.00,422.20 409.50,422.69 411.00,423.20 412.51,423.71 414.01,424.22 415.51,424.73 417.02,425.24 418.52,425.76 420.02,426.27 421.53,426.77 423.03,427.27 424.53,427.76 426.04,428.24 427.54,428.71 429.04,429.17 430.55,429.64 432.05,430.12 433.55,430.61 435.06,431.11 436.56,431.63 438.06,432.18 439.57,432.75 441.07,433.36 442.57,433.99 444.08,434.65 445.58,435.32 447.08,436.02 448.59,436.74 450.09,437.48 451.59,438.23 453.10,439.00 454.60,439.79 456.10,440.58 457.61,441.39 459.11,442.21 460.61,443.04 462.12,443.87 463.62,444.72 465.12,445.56 466.63,446.41 468.13,447.26 469.63,448.11 471.14,448.97 472.64,449.84 474.14,450.73 475.65,451.63 477.15,452.55 478.65,453.48 480.16,454.43 481.66,455.40 483.16,456.38 484.67,457.37 486.17,458.39 487.67,459.44 489.18,460.51 490.68,461.62 492.18,462.74 493.69,463.87 495.19,465.01 496.69,466.15 498.20,467.28 499.70,468.40 499.70,468.40 498.20,467.58 496.69,466.74 495.19,465.88 493.69,465.03 492.18,464.18 490.68,463.35 489.18,462.55 487.67,461.79 486.17,461.08 484.67,460.43 483.16,459.81 481.66,459.21 480.16,458.65 478.65,458.10 477.15,457.57 475.65,457.05 474.14,456.53 472.64,456.02 471.14,455.50 469.63,454.96 468.13,454.42 466.63,453.88 465.12,453.33 463.62,452.77 462.12,452.22 460.61,451.67 459.11,451.11 457.61,450.56 456.10,450.01 454.60,449.47 453.10,448.93 451.59,448.40 450.09,447.87 448.59,447.36 447.08,446.86 445.58,446.37 444.08,445.89 442.57,445.42 441.07,444.98 439.57,444.54 438.06,444.12 436.56,443.71 435.06,443.30 433.55,442.90 432.05,442.52 430.55,442.14 429.04,441.78 427.54,441.44 426.04,441.11 424.53,440.81 423.03,440.52 421.53,440.25 420.02,440.00 418.52,439.75 417.02,439.51 415.51,439.28 414.01,439.06 412.51,438.84 411.00,438.63 409.50,438.43 408.00,438.23 406.49,438.04 404.99,437.85 403.49,437.67 401.98,437.48 400.48,437.30 398.98,437.13 397.47,436.95 395.97,436.77 394.47,436.59 392.96,436.42 391.46,436.25 389.96,436.09 388.45,435.93 386.95,435.78 385.45,435.63 383.94,435.49 382.44,435.36 380.94,435.24 379.43,435.13 377.93,435.03 376.43,434.92 374.92,434.82 373.42,434.72 371.92,434.63 370.41,434.54 368.91,434.44 367.41,434.36 365.90,434.27 364.40,434.19 362.90,434.11 361.39,434.04 359.89,433.97 358.39,433.90 356.88,433.83 355.38,433.77 353.88,433.72 352.37,433.67 350.87,433.62 349.37,433.58 347.86,433.54 346.36,433.50 344.86,433.47 343.35,433.43 341.85,433.40 340.35,433.37 338.84,433.35 337.34,433.32 335.84,433.29 334.33,433.27 332.83,433.25 331.33,433.22 329.82,433.20 328.32,433.18 326.82,433.15 325.31,433.13 323.81,433.11 322.31,433.08 320.80,433.05 319.30,433.03" fill="#BDD7EE"/>
<polygon points="319.30,433.03 320.80,433.05 322.31,433.08 323.81,433.11 325.31,433.13 326.82,433.15 328.32,433.18 329.82,433.20 331.33,433.22 332.83,433.25 334.33,433.27 335.84,433.29 337.34,433.32 338.84,433.35 340.35,433.37 341.85,433.40 343.35,433.43 344.86,433.47 346.36,433.50 347.86,433.54 349.37,433.58 350.87,433.62 352.37,433.67 353.88,433.72 355.38,433.77 356.88,433.83 358.39,433.90 359.89,433.97 361.39,434.04 362.90,434.11 364.40,434.19 365.90,434.27 367.41,434.36 368.91,434.44 370.41,434.54 371.92,434.63 373.42,434.72 374.92,434.82 376.43,434.92 377.93,435.03 379.43,435.13 380.94,435.24 382.44,435.36 383.94,435.49 385.45,435.63 386.95,435.78 388.45,435.93 389.96,436.09 391.46,436.25 392.96,436.42 394.47,436.59 395.97,436.77 397.47,436.95 398.98,437.13 400.48,437.30 401.98,437.48 403.49,437.67 404.99,437.85 406.49,438.04 408.00,438.23 409.50,438.43 411.00,438.63 412.51,438.84 414.01,439.06 415.51,439.28 417.02,439.51 418.52,439.75 420.02,440.00 421.53,440.25 423.03,440.52 424.53,440.81 426.04,441.11 427.54,441.44 429.04,441.78 430.55,442.14 432.05,442.52 433.55,442.90 435.06,443.30 436.56,443.71 438.06,444.12 439.57,444.54 441.07,444.98 442.57,445.42 444.08,445.89 445.58,446.37 447.08,446.86 448.59,447.36 450.09,447.87 451.59,448.40 453.10,448.93 454.60,449.47 456.10,450.01 457.61,450.56 459.11,451.11 460.61,451.67 462.12,452.22 463.62,452.77 465.12,453.33 466.63,453.88 468.13,454.42 469.63,454.96 471.14,455.50 472.64,456.02 474.14,456.53 475.65,457.05 477.15,457.57 478.65,458.10 480.16,458.65 481.66,459.21 483.16,459.81 484.67,460.43 486.17,461.08 487.67,461.79 489.18,462.55 490.68,463.35 492.18,464.18 493.69,465.03 495.19,465.88 496.69,466.74 498.20,467.58 499.70,468.40 499.70,468.40 498.20,468.16 496.69,467.91 495.19,467.64 493.69,467.37 492.18,467.11 490.68,466.86 489.18,466.63 487.67,466.42 486.17,466.25 484.67,466.11 483.16,466.00 481.66,465.90 480.16,465.79 478.65,465.70 477.15,465.61 475.65,465.53 474.14,465.47 472.64,465.42 471.14,465.39 469.63,465.38 468.13,465.39 466.63,465.40 465.12,465.42 463.62,465.44 462.12,465.47 460.61,465.50 459.11,465.54 457.61,465.58 456.10,465.62 454.60,465.66 453.10,465.70 451.59,465.76 450.09,465.82 448.59,465.89 447.08,465.96 445.58,466.04 444.08,466.13 442.57,466.21 441.07,466.30 439.57,466.39 438.06,466.48 436.56,466.58 435.06,466.69 433.55,466.80 432.05,466.91 430.55,467.03 429.04,467.14 427.54,467.26 426.04,467.37 424.53,467.49 423.03,467.59 421.53,467.70 420.02,467.81 418.52,467.91 417.02,468.01 415.51,468.12 414.01,468.23 412.51,468.34 411.00,468.46 409.50,468.58 408.00,468.71 406.49,468.85 404.99,469.00 403.49,469.15 401.98,469.30 400.48,469.45 398.98,469.61 397.47,469.76 395.97,469.90 394.47,470.05 392.96,470.18 391.46,470.32 389.96,470.46 388.45,470.60 386.95,470.74 385.45,470.87 383.94,471.00 382.44,471.12 380.94,471.23 379.43,471.32 377.93,471.42 376.43,471.51 374.92,471.61 373.42,471.70 371.92,471.79 370.41,471.86 368.91,471.93 367.41,471.99 365.90,472.03 364.40,472.06 362.90,472.07 361.39,472.09 359.89,472.10 358.39,472.11 356.88,472.12 355.38,472.13 353.88,472.14 352.37,472.14 350.87,472.15 349.37,472.15 347.86,472.15 346.36,472.15 344.86,472.15 343.35,472.15 341.85,472.15 340.35,472.15 338.84,472.15 337.34,472.15 335.84,472.15 334.33,472.15 332.83,472.15 331.33,472.15 329.82,472.15 328.32,472.15 326.82,472.15 325.31,472.15 323.81,472.15 322.31,472.15 320.80,472.15 319.30,472.15" fill="#F8CBAD"/>
<polygon points="319.30,472.15 320.80,472.15 322.31,472.15 323.81,472.15 325.31,472.15 326.82,472.15 328.32,472.15 329.82,472.15 331.33,472.15 332.83,472.15 334.33,472.15 335.84,472.15 337.34,472.15 338.84,472.15 340.35,472.15 341.85,472.15 343.35,472.15 344.86,472.15 346.36,472.15 347.86,472.15 349.37,472.15 350.87,472.15 352.37,472.14 353.88,472.14 355.38,472.13 356.88,472.12 358.39,472.11 359.89,472.10 361.39,472.09 362.90,472.07 364.40,472.06 365.90,472.03 367.41,471.99 368.91,471.93 370.41,471.86 371.92,471.79 373.42,471.70 374.92,471.61 376.43,471.51 377.93,471.42 379.43,471.32 380.94,471.23 382.44,471.12 383.94,471.00 385.45,470.87 386.95,470.74 388.45,470.60 389.96,470.46 391.46,470.32 392.96,470.18 394.47,470.05 395.97,469.90 397.47,469.76 398.98,469.61 400.48,469.45 401.98,469.30 403.49,469.15 404.99,469.00 406.49,468.85 408.00,468.71 409.50,468.58 411.00,468.46 412.51,468.34 414.01,468.23 415.51,468.12 417.02,468.01 418.52,467.91 420.02,467.81 421.53,467.70 423.03,467.59 424.53,467.49 426.04,467.37 427.54,467.26 429.04,467.14 430.55,467.03 432.05,466.91 433.55,466.80 435.06,466.69 436.56,466.58 438.06,466.48 439.57,466.39 441.07,466.30 442.57,466.21 444.08,466.13 445.58,466.04 447.08,465.96 448.59,465.89 450.09,465.82 451.59,465.76 453.10,465.70 454.60,465.66 456.10,465.62 457.61,465.58 459.11,465.54 460.61,465.50 462.12,465.47 463.62,465.44 465.12,465.42 466.63,465.40 468.13,465.39 469.63,465.38 471.14,465.39 472.64,465.42 474.14,465.47 475.65,465.53 477.15,465.61 478.65,465.70 480.16,465.79 481.66,465.90 483.16,466.00 484.67,466.11 486.17,466.25 487.67,466.42 489.18,466.63 490.68,466.86 492.18,467.11 493.69,467.37 495.19,467.64 496.69,467.91 498.20,468.16 499.70,468.40 499.70,468.40 498.20,468.40 496.69,468.40 495.19,468.40 493.69,468.40 492.18,468.40 490.68,468.40 489.18,468.40 487.67,468.40 486.17,468.40 484.67,468.40 483.16,468.40 481.66,468.40 480.16,468.40 478.65,468.40 477.15,468.40 475.65,468.40 474.14,468.40 472.64,468.40 471.14,468.40 469.63,468.40 468.13,468.40 466.63,468.40 465.12,468.40 463.62,468.40 462.12,468.40 460.61,468.40 459.11,468.40 457.61,468.40 456.10,468.40 454.60,468.40 453.10,468.40 451.59,468.40 450.09,468.40 448.59,468.40 447.08,468.40 445.58,468.40 444.08,468.40 442.57,468.40 441.07,468.40 439.57,468.40 438.06,468.40 436.56,468.40 435.06,468.40 433.55,468.40 432.05,468.40 430.55,468.40 429.04,468.40 427.54,468.40 426.04,468.40 424.53,468.40 423.03,468.40 421.53,468.40 420.02,468.40 418.52,468.40 417.02,468.40 415.51,468.40 414.01,468.40 412.51,468.40 411.00,468.40 409.50,468.40 408.00,468.40 406.49,468.40 404.99,468.40 403.49,468.40 401.98,468.40 400.48,468.40 398.98,468.40 397.47,468.40 395.97,468.40 394.47,468.40 392.96,468.40 391.46,468.40 389.96,468.40 388.45,468.40 386.95,468.40 385.45,468.40 383.94,468.40 382.44,468.40 380.94,468.40 379.43,468.40 377.93,468.40 376.43,468.40 374.92,468.40 373.42,468.40 371.92,468.40 370.41,468.40 368.91,468.40 367.41,468.40 365.90,468.40 364.40,468.40 362.90,468.40 361.39,468.40 359.89,468.40 358.39,468.40 356.88,468.40 355.38,468.40 353.88,468.40 352.37,468.40 350.87,468.40 349.37,468.40 347.86,468.40 346.36,468.40 344.86,468.40 343.35,468.40 341.85,468.40 340.35,468.40 338.84,468.40 337.34,468.40 335.84,468.40 334.33,468.40 332.83,468.40 331.33,468.40 329.82,468.40 328.32,468.40 326.82,468.40 325.31,468.40 323.81,468.40 322.31,468.40 320.80,468.40 319.30,468.40" fill="#E7E6E6"/>
<line x1="319.30" y1="395.80" x2="319.30" y2="477.54" stroke="#9BB4E0" stroke-width="0.9"/>
<line x1="319.30" y1="468.40" x2="499.70" y2="468.40" stroke="#9BB4E0" stroke-width="0.9"/>
<line x1="317.80" y1="477.54" x2="319.30" y2="477.54" stroke="#9BB4E0" stroke-width="0.8"/>
<text x="313.80" y="479.54" font-family='"Liberation Serif", serif' font-size="5.8" font-weight="bold" text-anchor="end" fill="#222" >-0.1</text>
<line x1="317.80" y1="459.26" x2="319.30" y2="459.26" stroke="#9BB4E0" stroke-width="0.8"/>
<text x="313.80" y="461.26" font-family='"Liberation Serif", serif' font-size="5.8" font-weight="bold" text-anchor="end" fill="#222" >0.1</text>
<line x1="317.80" y1="440.98" x2="319.30" y2="440.98" stroke="#9BB4E0" stroke-width="0.8"/>
<text x="313.80" y="442.98" font-family='"Liberation Serif", serif' font-size="5.8" font-weight="bold" text-anchor="end" fill="#222" >0.3</text>
<line x1="317.80" y1="422.70" x2="319.30" y2="422.70" stroke="#9BB4E0" stroke-width="0.8"/>
<text x="313.80" y="424.70" font-family='"Liberation Serif", serif' font-size="5.8" font-weight="bold" text-anchor="end" fill="#222" >0.5</text>
<line x1="317.80" y1="404.42" x2="319.30" y2="404.42" stroke="#9BB4E0" stroke-width="0.8"/>
<text x="313.80" y="406.42" font-family='"Liberation Serif", serif' font-size="5.8" font-weight="bold" text-anchor="end" fill="#222" >0.7</text>
<text x="319.30" y="477.00" font-family='"Liberation Serif", serif' font-size="5.8" font-weight="bold" text-anchor="middle" fill="#222" >40</text>
<text x="349.37" y="477.00" font-family='"Liberation Serif", serif' font-size="5.8" font-weight="bold" text-anchor="middle" fill="#222" >50</text>
<text x="379.43" y="477.00" font-family='"Liberation Serif", serif' font-size="5.8" font-weight="bold" text-anchor="middle" fill="#222" >60</text>
<text x="409.50" y="477.00" font-family='"Liberation Serif", serif' font-size="5.8" font-weight="bold" text-anchor="middle" fill="#222" >70</text>
<text x="439.57" y="477.00" font-family='"Liberation Serif", serif' font-size="5.8" font-weight="bold" text-anchor="middle" fill="#222" >80</text>
<text x="469.63" y="477.00" font-family='"Liberation Serif", serif' font-size="5.8" font-weight="bold" text-anchor="middle" fill="#222" >90</text>
<text x="499.70" y="477.00" font-family='"Liberation Serif", serif' font-size="5.8" font-weight="bold" text-anchor="middle" fill="#222" >100</text>
<text transform="translate(301.80,475.80) rotate(-90)" font-family='"Liberation Serif", serif' font-size="6.75" font-weight="bold">Lost life expectancy (year)</text>
<text x="400.00" y="484.10" font-family='"Liberation Serif", serif' font-size="6.7" font-weight="bold" text-anchor="middle" fill="#000" >Age (year)</text>
<rect x="416.20" y="407.50" width="2.60" height="2.60" fill="#BDD7EE"/>
<text x="420.20" y="410.30" font-family='"Liberation Serif", serif' font-size="5.75" font-weight="bold" text-anchor="start" fill="#000" >Cancer</text>
<rect x="443.50" y="407.50" width="2.60" height="2.60" fill="#F8CBAD"/>
<text x="447.50" y="410.30" font-family='"Liberation Serif", serif' font-size="5.75" font-weight="bold" text-anchor="start" fill="#000" >CVD</text>
<rect x="467.20" y="407.50" width="2.60" height="2.60" fill="#E7E6E6"/>
<text x="471.20" y="410.30" font-family='"Liberation Serif", serif' font-size="5.75" font-weight="bold" text-anchor="start" fill="#000" >Others</text>
</svg>
</body></html>
